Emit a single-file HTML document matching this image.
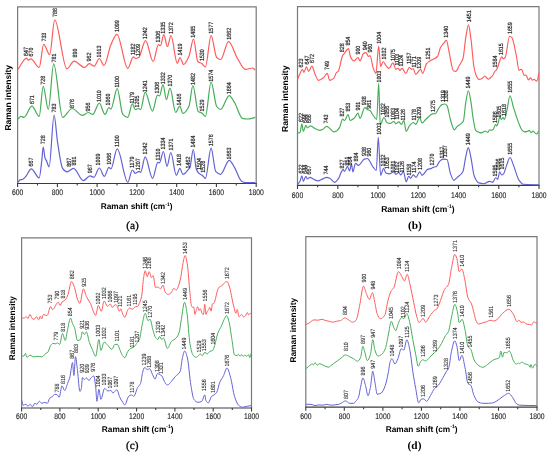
<!DOCTYPE html><html><head><meta charset="utf-8"><style>html,body{margin:0;padding:0;background:#fff;width:550px;height:454px;overflow:hidden}svg{display:block;will-change:transform}</style></head><body>
<svg width="550" height="454" viewBox="0 0 550 454" font-family="Liberation Sans, sans-serif" text-rendering="geometricPrecision">
<path d="M17.6 183.5 V6.8 H256.2 V183.5" fill="none" stroke="#7a7a7a" stroke-width="1.2"/>
<path d="M17.0 183.5 H256.8" stroke="#3c3c3c" stroke-width="1.2"/>
<path d="M17.6 183.5 v3.6 M37.5 183.5 v2.0 M57.4 183.5 v3.6 M77.2 183.5 v2.0 M97.1 183.5 v3.6 M117.0 183.5 v2.0 M136.9 183.5 v3.6 M156.8 183.5 v2.0 M176.7 183.5 v3.6 M196.6 183.5 v2.0 M216.4 183.5 v3.6 M236.3 183.5 v2.0 M256.2 183.5 v3.6" stroke="#3c3c3c" stroke-width="1.1"/>
<text transform="translate(17.6 195.2) scale(0.83 1)" font-size="8.2" text-anchor="middle" fill="#222" stroke="#222" stroke-width="0.12">600</text>
<text transform="translate(57.4 195.2) scale(0.83 1)" font-size="8.2" text-anchor="middle" fill="#222" stroke="#222" stroke-width="0.12">800</text>
<text transform="translate(97.1 195.2) scale(0.83 1)" font-size="8.2" text-anchor="middle" fill="#222" stroke="#222" stroke-width="0.12">1000</text>
<text transform="translate(136.9 195.2) scale(0.83 1)" font-size="8.2" text-anchor="middle" fill="#222" stroke="#222" stroke-width="0.12">1200</text>
<text transform="translate(176.7 195.2) scale(0.83 1)" font-size="8.2" text-anchor="middle" fill="#222" stroke="#222" stroke-width="0.12">1400</text>
<text transform="translate(216.4 195.2) scale(0.83 1)" font-size="8.2" text-anchor="middle" fill="#222" stroke="#222" stroke-width="0.12">1600</text>
<text transform="translate(256.2 195.2) scale(0.83 1)" font-size="8.2" text-anchor="middle" fill="#222" stroke="#222" stroke-width="0.12">1800</text>
<path d="M297.5 185.3 V6.6 H539.0 V185.3" fill="none" stroke="#7a7a7a" stroke-width="1.2"/>
<path d="M296.9 185.3 H539.6" stroke="#3c3c3c" stroke-width="1.2"/>
<path d="M297.5 185.3 v3.6 M317.6 185.3 v2.0 M337.8 185.3 v3.6 M357.9 185.3 v2.0 M378.0 185.3 v3.6 M398.1 185.3 v2.0 M418.2 185.3 v3.6 M438.4 185.3 v2.0 M458.5 185.3 v3.6 M478.6 185.3 v2.0 M498.8 185.3 v3.6 M518.9 185.3 v2.0 M539.0 185.3 v3.6" stroke="#3c3c3c" stroke-width="1.1"/>
<text transform="translate(297.5 197.7) scale(0.83 1)" font-size="8.2" text-anchor="middle" fill="#222" stroke="#222" stroke-width="0.12">600</text>
<text transform="translate(337.8 197.7) scale(0.83 1)" font-size="8.2" text-anchor="middle" fill="#222" stroke="#222" stroke-width="0.12">800</text>
<text transform="translate(378.0 197.7) scale(0.83 1)" font-size="8.2" text-anchor="middle" fill="#222" stroke="#222" stroke-width="0.12">1000</text>
<text transform="translate(418.2 197.7) scale(0.83 1)" font-size="8.2" text-anchor="middle" fill="#222" stroke="#222" stroke-width="0.12">1200</text>
<text transform="translate(458.5 197.7) scale(0.83 1)" font-size="8.2" text-anchor="middle" fill="#222" stroke="#222" stroke-width="0.12">1400</text>
<text transform="translate(498.8 197.7) scale(0.83 1)" font-size="8.2" text-anchor="middle" fill="#222" stroke="#222" stroke-width="0.12">1600</text>
<text transform="translate(539.0 197.7) scale(0.83 1)" font-size="8.2" text-anchor="middle" fill="#222" stroke="#222" stroke-width="0.12">1800</text>
<path d="M21.6 408.0 V237.9 H251.5 V408.0" fill="none" stroke="#7a7a7a" stroke-width="1.2"/>
<path d="M21.0 408.0 H252.1" stroke="#3c3c3c" stroke-width="1.2"/>
<path d="M21.6 408.0 v3.6 M40.8 408.0 v2.0 M59.9 408.0 v3.6 M79.1 408.0 v2.0 M98.2 408.0 v3.6 M117.4 408.0 v2.0 M136.6 408.0 v3.6 M155.7 408.0 v2.0 M174.9 408.0 v3.6 M194.0 408.0 v2.0 M213.2 408.0 v3.6 M232.3 408.0 v2.0 M251.5 408.0 v3.6" stroke="#3c3c3c" stroke-width="1.1"/>
<text transform="translate(21.6 419.1) scale(0.83 1)" font-size="8.2" text-anchor="middle" fill="#222" stroke="#222" stroke-width="0.12">600</text>
<text transform="translate(59.9 419.1) scale(0.83 1)" font-size="8.2" text-anchor="middle" fill="#222" stroke="#222" stroke-width="0.12">800</text>
<text transform="translate(98.2 419.1) scale(0.83 1)" font-size="8.2" text-anchor="middle" fill="#222" stroke="#222" stroke-width="0.12">1000</text>
<text transform="translate(136.6 419.1) scale(0.83 1)" font-size="8.2" text-anchor="middle" fill="#222" stroke="#222" stroke-width="0.12">1200</text>
<text transform="translate(174.9 419.1) scale(0.83 1)" font-size="8.2" text-anchor="middle" fill="#222" stroke="#222" stroke-width="0.12">1400</text>
<text transform="translate(213.2 419.1) scale(0.83 1)" font-size="8.2" text-anchor="middle" fill="#222" stroke="#222" stroke-width="0.12">1600</text>
<text transform="translate(251.5 419.1) scale(0.83 1)" font-size="8.2" text-anchor="middle" fill="#222" stroke="#222" stroke-width="0.12">1800</text>
<path d="M305.8 407.2 V236.6 H537.0 V407.2" fill="none" stroke="#7a7a7a" stroke-width="1.2"/>
<path d="M305.2 407.2 H537.6" stroke="#3c3c3c" stroke-width="1.2"/>
<path d="M305.8 407.2 v3.6 M325.1 407.2 v2.0 M344.3 407.2 v3.6 M363.6 407.2 v2.0 M382.9 407.2 v3.6 M402.1 407.2 v2.0 M421.4 407.2 v3.6 M440.7 407.2 v2.0 M459.9 407.2 v3.6 M479.2 407.2 v2.0 M498.5 407.2 v3.6 M517.7 407.2 v2.0 M537.0 407.2 v3.6" stroke="#3c3c3c" stroke-width="1.1"/>
<text transform="translate(305.8 419.1) scale(0.83 1)" font-size="8.2" text-anchor="middle" fill="#222" stroke="#222" stroke-width="0.12">600</text>
<text transform="translate(344.3 419.1) scale(0.83 1)" font-size="8.2" text-anchor="middle" fill="#222" stroke="#222" stroke-width="0.12">800</text>
<text transform="translate(382.9 419.1) scale(0.83 1)" font-size="8.2" text-anchor="middle" fill="#222" stroke="#222" stroke-width="0.12">1000</text>
<text transform="translate(421.4 419.1) scale(0.83 1)" font-size="8.2" text-anchor="middle" fill="#222" stroke="#222" stroke-width="0.12">1200</text>
<text transform="translate(459.9 419.1) scale(0.83 1)" font-size="8.2" text-anchor="middle" fill="#222" stroke="#222" stroke-width="0.12">1400</text>
<text transform="translate(498.5 419.1) scale(0.83 1)" font-size="8.2" text-anchor="middle" fill="#222" stroke="#222" stroke-width="0.12">1600</text>
<text transform="translate(537.0 419.1) scale(0.83 1)" font-size="8.2" text-anchor="middle" fill="#222" stroke="#222" stroke-width="0.12">1800</text>
<path d="M18.00 69.40 C20.83 65.63 23.67 58.10 26.50 58.10 C27.17 58.10 27.83 60.10 28.50 60.10 C29.30 60.10 30.10 58.90 30.90 58.90 C33.67 58.90 36.43 67.50 39.20 67.50 C40.70 67.50 42.20 44.30 43.70 44.30 C45.70 44.30 47.70 54.60 49.70 54.60 C51.37 54.60 53.03 19.90 54.70 19.90 C58.77 19.90 62.83 68.80 66.90 68.80 C69.30 68.80 71.70 61.10 74.10 61.10 C77.53 61.10 80.97 67.50 84.40 67.50 C86.03 67.50 87.67 63.70 89.30 63.70 C90.97 63.70 92.63 66.10 94.30 66.10 C95.97 66.10 97.63 58.50 99.30 58.50 C100.87 58.50 102.43 65.50 104.00 65.50 C106.30 65.50 108.60 49.73 110.90 44.70 C112.90 40.33 114.90 34.30 116.90 34.30 C120.53 34.30 124.17 68.40 127.80 68.40 C129.63 68.40 131.47 56.90 133.30 56.90 C134.10 56.90 134.90 58.50 135.70 58.50 C136.70 58.50 137.70 58.03 138.70 57.50 C141.00 56.27 143.30 40.70 145.60 40.70 C148.10 40.70 150.60 61.50 153.10 61.50 C154.90 61.50 156.70 44.70 158.50 44.70 C159.17 44.70 159.83 45.60 160.50 45.60 C161.60 45.60 162.70 34.70 163.80 34.70 C165.00 34.70 166.20 46.60 167.40 46.60 C168.60 46.60 169.80 35.70 171.00 35.70 C173.10 35.70 175.20 63.50 177.30 63.50 C178.17 63.50 179.03 57.50 179.90 57.50 C181.13 57.50 182.37 64.50 183.60 64.50 C185.37 64.50 187.13 60.35 188.90 56.50 C190.43 53.16 191.97 39.10 193.50 39.10 C194.93 39.10 196.37 60.21 197.80 61.50 C199.13 62.70 200.47 62.62 201.80 63.50 C203.00 64.29 204.20 66.90 205.40 66.90 C207.30 66.90 209.20 35.70 211.10 35.70 C212.97 35.70 214.83 55.88 216.70 57.50 C218.00 58.63 219.30 59.50 220.60 59.50 C223.27 59.50 225.93 41.70 228.60 41.70 C231.57 41.70 234.53 53.79 237.50 58.50 C240.13 62.69 242.77 69.40 245.40 69.40 C247.73 69.40 250.07 68.00 252.40 68.00 C253.37 68.00 254.33 69.33 255.30 70.00" fill="none" stroke="#ff5a5a" stroke-width="1.20" stroke-linejoin="round"/>
<path d="M18.00 119.00 C19.00 118.13 20.00 116.40 21.00 116.40 C21.97 116.40 22.93 117.40 23.90 117.40 C26.57 117.40 29.23 106.10 31.90 106.10 C34.33 106.10 36.77 116.40 39.20 116.40 C40.53 116.40 41.87 86.30 43.20 86.30 C44.90 86.30 46.60 109.50 48.30 109.50 C50.10 109.50 51.90 63.90 53.70 63.90 C56.67 63.90 59.63 117.40 62.60 117.40 C65.77 117.40 68.93 108.50 72.10 108.50 C75.53 108.50 78.97 115.40 82.40 115.40 C84.40 115.40 86.40 112.50 88.40 112.50 C89.83 112.50 91.27 114.40 92.70 114.40 C94.90 114.40 97.10 103.10 99.30 103.10 C101.20 103.10 103.10 114.40 105.00 114.40 C106.30 114.40 107.60 107.50 108.90 107.50 C109.57 107.50 110.23 109.10 110.90 109.10 C113.00 109.10 115.10 88.70 117.20 88.70 C119.07 88.70 120.93 112.45 122.80 114.40 C124.47 116.14 126.13 117.40 127.80 117.40 C129.30 117.40 130.80 103.90 132.30 103.90 C133.30 103.90 134.30 109.50 135.30 109.50 C136.43 109.50 137.57 108.50 138.70 108.50 C139.33 108.50 139.97 109.50 140.60 109.50 C142.13 109.50 143.67 92.20 145.20 92.20 C147.63 92.20 150.07 111.10 152.50 111.10 C154.17 111.10 155.83 95.20 157.50 95.20 C158.17 95.20 158.83 96.00 159.50 96.00 C160.67 96.00 161.83 84.70 163.00 84.70 C164.13 84.70 165.27 99.60 166.40 99.60 C167.60 99.60 168.80 88.10 170.00 88.10 C171.90 88.10 173.80 112.50 175.70 112.50 C177.03 112.50 178.37 106.10 179.70 106.10 C180.77 106.10 181.83 113.40 182.90 113.40 C184.90 113.40 186.90 110.43 188.90 106.50 C190.23 103.88 191.57 85.70 192.90 85.70 C194.67 85.70 196.43 110.21 198.20 111.50 C199.40 112.37 200.60 112.31 201.80 113.00 C203.00 113.69 204.20 116.40 205.40 116.40 C207.30 116.40 209.20 82.10 211.10 82.10 C212.97 82.10 214.83 104.16 216.70 106.50 C218.00 108.13 219.30 109.50 220.60 109.50 C223.47 109.50 226.33 95.60 229.20 95.60 C230.97 95.60 232.73 99.76 234.50 102.50 C237.17 106.64 239.83 117.83 242.50 118.40 C244.13 118.75 245.77 119.00 247.40 119.00 C250.03 119.00 252.67 117.93 255.30 117.40" fill="none" stroke="#45ad58" stroke-width="1.20" stroke-linejoin="round"/>
<path d="M18.00 182.20 C18.67 181.43 19.33 180.14 20.00 179.90 C20.97 179.55 21.93 179.63 22.90 179.30 C23.90 178.96 24.90 177.45 25.90 176.30 C27.70 174.24 29.50 168.80 31.30 168.80 C33.93 168.80 36.57 177.90 39.20 177.90 C40.07 177.90 40.93 167.37 41.80 160.40 C42.27 156.65 42.73 147.00 43.20 147.00 C43.83 147.00 44.47 156.82 45.10 158.40 C45.50 159.40 45.90 159.64 46.30 160.40 C47.23 162.16 48.17 166.80 49.10 166.80 C50.77 166.80 52.43 115.20 54.10 115.20 C55.27 115.20 56.43 135.25 57.60 142.60 C59.27 153.09 60.93 166.14 62.60 168.40 C64.07 170.39 65.53 171.90 67.00 171.90 C68.17 171.90 69.33 170.63 70.50 170.00 C71.50 169.46 72.50 168.40 73.50 168.40 C76.80 168.40 80.10 180.60 83.40 180.60 C85.60 180.60 87.80 175.90 90.00 175.90 C91.30 175.90 92.60 177.30 93.90 177.30 C95.70 177.30 97.50 168.00 99.30 168.00 C101.00 168.00 102.70 176.30 104.40 176.30 C105.90 176.30 107.40 167.40 108.90 167.40 C109.57 167.40 110.23 168.80 110.90 168.80 C113.00 168.80 115.10 148.90 117.20 148.90 C120.73 148.90 124.27 182.20 127.80 182.20 C129.30 182.20 130.80 170.00 132.30 170.00 C133.30 170.00 134.30 173.30 135.30 173.30 C136.63 173.30 137.97 171.30 139.30 171.30 C139.73 171.30 140.17 172.30 140.60 172.30 C142.13 172.30 143.67 156.90 145.20 156.90 C147.63 156.90 150.07 178.30 152.50 178.30 C154.30 178.30 156.10 162.40 157.90 162.40 C158.43 162.40 158.97 162.80 159.50 162.80 C160.80 162.80 162.10 151.50 163.40 151.50 C164.60 151.50 165.80 166.40 167.00 166.40 C168.27 166.40 169.53 152.50 170.80 152.50 C172.63 152.50 174.47 175.30 176.30 175.30 C177.50 175.30 178.70 168.40 179.90 168.40 C180.90 168.40 181.90 174.30 182.90 174.30 C184.57 174.30 186.23 171.78 187.90 170.00 C188.57 169.29 189.23 168.72 189.90 167.40 C191.03 165.15 192.17 149.50 193.30 149.50 C194.30 149.50 195.30 166.77 196.30 169.30 C197.13 171.41 197.97 172.57 198.80 173.30 C199.93 174.30 201.07 174.48 202.20 175.30 C203.27 176.07 204.33 178.30 205.40 178.30 C207.30 178.30 209.20 148.10 211.10 148.10 C212.63 148.10 214.17 169.61 215.70 171.30 C217.33 173.10 218.97 174.30 220.60 174.30 C223.47 174.30 226.33 160.40 229.20 160.40 C230.97 160.40 232.73 164.63 234.50 167.40 C236.83 171.06 239.17 179.87 241.50 181.20 C242.80 181.94 244.10 182.60 245.40 182.60 C248.70 182.60 252.00 182.60 255.30 182.60" fill="none" stroke="#6262d4" stroke-width="1.20" stroke-linejoin="round"/>
<path d="M297.60 79.30 C298.40 77.33 299.20 74.95 300.00 73.40 C300.83 71.78 301.67 69.40 302.50 69.40 C302.97 69.40 303.43 72.40 303.90 72.40 C304.77 72.40 305.63 66.90 306.50 66.90 C307.17 66.90 307.83 71.40 308.50 71.40 C309.63 71.40 310.77 66.10 311.90 66.10 C312.87 66.10 313.83 71.29 314.80 73.40 C316.00 76.02 317.20 80.30 318.40 80.30 C320.17 80.30 321.93 78.72 323.70 77.40 C324.90 76.50 326.10 73.40 327.30 73.40 C328.10 73.40 328.90 80.30 329.70 80.30 C331.03 80.30 332.37 79.47 333.70 78.40 C334.67 77.63 335.63 73.28 336.60 72.40 C337.13 71.91 337.67 71.91 338.20 71.40 C339.67 69.99 341.13 58.13 342.60 55.60 C343.13 54.68 343.67 54.25 344.20 53.60 C345.63 51.86 347.07 48.60 348.50 48.60 C349.17 48.60 349.83 55.66 350.50 56.90 C351.70 59.13 352.90 60.90 354.10 60.90 C355.40 60.90 356.70 57.50 358.00 57.50 C358.67 57.50 359.33 60.90 360.00 60.90 C361.13 60.90 362.27 54.32 363.40 53.60 C364.27 53.05 365.13 52.60 366.00 52.60 C366.80 52.60 367.60 56.50 368.40 56.50 C368.93 56.50 369.47 55.60 370.00 55.60 C371.10 55.60 372.20 65.61 373.30 68.40 C374.17 70.60 375.03 73.40 375.90 73.40 C376.83 73.40 377.77 46.20 378.70 46.20 C379.33 46.20 379.97 66.50 380.60 66.50 C381.47 66.50 382.33 61.50 383.20 61.50 C384.10 61.50 385.00 64.44 385.90 65.50 C386.90 66.67 387.90 68.40 388.90 68.40 C390.23 68.40 391.57 62.90 392.90 62.90 C393.90 62.90 394.90 69.40 395.90 69.40 C396.67 69.40 397.43 68.00 398.20 68.00 C398.73 68.00 399.27 70.40 399.80 70.40 C400.60 70.40 401.40 68.40 402.20 68.40 C403.40 68.40 404.60 73.40 405.80 73.40 C406.97 73.40 408.13 67.50 409.30 67.50 C410.10 67.50 410.90 69.40 411.70 69.40 C412.23 69.40 412.77 68.80 413.30 68.80 C414.10 68.80 414.90 74.40 415.70 74.40 C417.33 74.40 418.97 69.40 420.60 69.40 C421.27 69.40 421.93 73.40 422.60 73.40 C423.93 73.40 425.27 65.01 426.60 63.50 C427.47 62.52 428.33 62.09 429.20 61.50 C430.30 60.75 431.40 60.16 432.50 59.50 C434.17 58.49 435.83 58.26 437.50 56.50 C438.50 55.44 439.50 49.45 440.50 47.60 C441.47 45.81 442.43 44.89 443.40 43.70 C444.40 42.47 445.40 40.30 446.40 40.30 C447.40 40.30 448.40 49.23 449.40 53.60 C450.73 59.43 452.07 70.19 453.40 70.80 C454.17 71.15 454.93 71.40 455.70 71.40 C456.90 71.40 458.10 67.61 459.30 65.50 C460.53 63.33 461.77 62.32 463.00 58.50 C463.97 55.51 464.93 42.18 465.90 36.70 C466.77 31.79 467.63 24.80 468.50 24.80 C469.30 24.80 470.10 33.05 470.90 38.70 C471.90 45.77 472.90 60.87 473.90 66.50 C474.50 69.88 475.10 72.61 475.70 74.10 C476.77 76.75 477.83 79.40 478.90 79.40 C479.97 79.40 481.03 78.98 482.10 78.50 C482.93 78.13 483.77 76.00 484.60 76.00 C485.23 76.00 485.87 77.18 486.50 77.70 C487.17 78.24 487.83 79.20 488.50 79.20 C489.13 79.20 489.77 78.23 490.40 77.70 C491.03 77.17 491.67 76.75 492.30 76.00 C493.13 75.02 493.97 72.56 494.80 71.50 C495.43 70.70 496.07 70.52 496.70 69.60 C497.33 68.68 497.97 66.29 498.60 64.50 C499.23 62.71 499.87 60.02 500.50 58.80 C500.93 57.97 501.37 56.90 501.80 56.90 C502.30 56.90 502.80 58.80 503.30 58.80 C503.97 58.80 504.63 57.99 505.30 57.10 C506.73 55.19 508.17 36.30 509.60 36.30 C510.37 36.30 511.13 36.95 511.90 37.70 C513.43 39.20 514.97 49.19 516.50 56.50 C517.33 60.47 518.17 70.30 519.00 70.30 C519.63 70.30 520.27 69.30 520.90 69.30 C521.33 69.30 521.77 69.80 522.20 70.30 C522.83 71.03 523.47 75.40 524.10 75.40 C524.73 75.40 525.37 75.10 526.00 75.10 C526.83 75.10 527.67 79.80 528.50 79.80 C529.17 79.80 529.83 77.90 530.50 77.90 C531.13 77.90 531.77 80.20 532.40 80.20 C533.03 80.20 533.67 79.40 534.30 79.40 C534.93 79.40 535.57 81.10 536.20 81.10 C536.70 81.10 537.20 80.61 537.70 79.80 C538.03 79.26 538.37 75.13 538.70 72.80" fill="none" stroke="#ff5a5a" stroke-width="1.15" stroke-linejoin="round"/>
<path d="M297.60 133.00 C298.40 132.80 299.20 132.79 300.00 132.40 C300.63 132.09 301.27 123.80 301.90 123.80 C302.37 123.80 302.83 131.40 303.30 131.40 C304.17 131.40 305.03 125.40 305.90 125.40 C306.37 125.40 306.83 127.80 307.30 127.80 C308.37 127.80 309.43 125.80 310.50 125.80 C311.93 125.80 313.37 127.71 314.80 128.40 C316.47 129.21 318.13 130.40 319.80 130.40 C320.80 130.40 321.80 129.86 322.80 129.40 C324.10 128.81 325.40 126.40 326.70 126.40 C327.70 126.40 328.70 127.66 329.70 128.40 C331.03 129.39 332.37 131.80 333.70 131.80 C334.67 131.80 335.63 131.43 336.60 131.00 C337.60 130.55 338.60 129.07 339.60 127.40 C340.60 125.73 341.60 119.10 342.60 119.10 C343.27 119.10 343.93 120.50 344.60 120.50 C345.77 120.50 346.93 114.50 348.10 114.50 C348.77 114.50 349.43 120.50 350.10 120.50 C351.57 120.50 353.03 119.13 354.50 117.90 C355.67 116.92 356.83 113.10 358.00 113.10 C358.67 113.10 359.33 118.50 360.00 118.50 C361.60 118.50 363.20 107.60 364.80 107.60 C365.67 107.60 366.53 109.14 367.40 109.60 C368.23 110.04 369.07 110.09 369.90 110.60 C371.03 111.29 372.17 114.03 373.30 115.50 C374.43 116.97 375.57 119.50 376.70 119.50 C377.37 119.50 378.03 83.40 378.70 83.40 C379.20 83.40 379.70 124.40 380.20 124.40 C381.47 124.40 382.73 117.50 384.00 117.50 C384.97 117.50 385.93 122.00 386.90 122.50 C387.90 123.01 388.90 123.40 389.90 123.40 C391.23 123.40 392.57 121.50 393.90 121.50 C394.57 121.50 395.23 123.80 395.90 123.80 C396.87 123.80 397.83 121.90 398.80 121.90 C399.67 121.90 400.53 124.40 401.40 124.40 C402.20 124.40 403.00 120.50 403.80 120.50 C404.60 120.50 405.40 131.40 406.20 131.40 C407.37 131.40 408.53 126.68 409.70 125.40 C410.90 124.08 412.10 122.50 413.30 122.50 C414.10 122.50 414.90 124.40 415.70 124.40 C417.03 124.40 418.37 117.50 419.70 117.50 C420.47 117.50 421.23 123.00 422.00 123.00 C423.53 123.00 425.07 119.84 426.60 118.50 C428.57 116.79 430.53 114.32 432.50 113.90 C433.50 113.69 434.50 113.75 435.50 113.50 C436.50 113.25 437.50 109.97 438.50 108.60 C439.63 107.04 440.77 104.97 441.90 104.60 C442.93 104.26 443.97 104.00 445.00 104.00 C445.67 104.00 446.33 104.76 447.00 105.60 C448.13 107.03 449.27 115.85 450.40 119.50 C451.70 123.69 453.00 129.80 454.30 129.80 C455.30 129.80 456.30 127.31 457.30 126.40 C458.63 125.18 459.97 124.63 461.30 123.40 C462.00 122.75 462.70 122.39 463.40 121.00 C464.13 119.54 464.87 108.01 465.60 103.60 C466.50 98.19 467.40 90.70 468.30 90.70 C469.17 90.70 470.03 96.91 470.90 101.60 C471.67 105.75 472.43 114.51 473.20 118.90 C474.03 123.67 474.87 129.49 475.70 130.40 C476.77 131.56 477.83 131.95 478.90 132.30 C479.77 132.58 480.63 132.90 481.50 132.90 C482.13 132.90 482.77 132.22 483.40 131.90 C484.03 131.58 484.67 131.00 485.30 131.00 C486.13 131.00 486.97 132.30 487.80 132.30 C488.43 132.30 489.07 129.70 489.70 129.70 C490.33 129.70 490.97 130.40 491.60 130.40 C492.23 130.40 492.87 129.76 493.50 129.10 C494.17 128.40 494.83 124.60 495.50 124.60 C495.90 124.60 496.30 125.90 496.70 125.90 C497.13 125.90 497.57 124.47 498.00 123.40 C498.63 121.83 499.27 116.40 499.90 116.40 C500.33 116.40 500.77 119.50 501.20 119.50 C501.83 119.50 502.47 117.60 503.10 117.60 C503.53 117.60 503.97 119.50 504.40 119.50 C505.23 119.50 506.07 113.90 506.90 110.50 C507.93 106.28 508.97 95.70 510.00 95.70 C511.17 95.70 512.33 103.92 513.50 107.60 C515.53 114.01 517.57 120.66 519.60 125.30 C520.47 127.28 521.33 129.61 522.20 130.40 C523.03 131.16 523.87 131.90 524.70 131.90 C525.57 131.90 526.43 131.65 527.30 131.40 C527.93 131.22 528.57 130.40 529.20 130.40 C529.83 130.40 530.47 132.70 531.10 132.70 C531.73 132.70 532.37 131.00 533.00 131.00 C533.63 131.00 534.27 132.46 534.90 132.90 C535.53 133.34 536.17 133.90 536.80 133.90 C537.43 133.90 538.07 131.97 538.70 131.00" fill="none" stroke="#45ad58" stroke-width="1.15" stroke-linejoin="round"/>
<path d="M297.60 184.30 C298.40 183.30 299.20 182.73 300.00 181.30 C300.63 180.17 301.27 175.70 301.90 175.70 C302.37 175.70 302.83 181.30 303.30 181.30 C304.17 181.30 305.03 176.30 305.90 176.30 C306.37 176.30 306.83 178.90 307.30 178.90 C308.17 178.90 309.03 177.30 309.90 177.30 C311.20 177.30 312.50 178.72 313.80 179.30 C315.13 179.90 316.47 180.90 317.80 180.90 C319.47 180.90 321.13 179.58 322.80 178.90 C324.10 178.37 325.40 177.30 326.70 177.30 C327.70 177.30 328.70 177.85 329.70 178.30 C331.37 179.06 333.03 182.30 334.70 182.30 C336.00 182.30 337.30 180.18 338.60 178.30 C339.60 176.86 340.60 173.11 341.60 171.40 C342.07 170.60 342.53 169.40 343.00 169.40 C343.53 169.40 344.07 171.40 344.60 171.40 C345.57 171.40 346.53 166.40 347.50 166.40 C348.17 166.40 348.83 171.00 349.50 171.00 C350.17 171.00 350.83 164.40 351.50 164.40 C351.97 164.40 352.43 171.80 352.90 171.80 C353.77 171.80 354.63 163.40 355.50 163.40 C356.47 163.40 357.43 165.40 358.40 165.40 C360.40 165.40 362.40 159.72 364.40 159.10 C365.40 158.79 366.40 158.50 367.40 158.50 C368.03 158.50 368.67 159.70 369.30 160.50 C370.63 162.19 371.97 165.73 373.30 167.40 C374.30 168.65 375.30 170.40 376.30 170.40 C376.97 170.40 377.63 137.30 378.30 137.30 C379.07 137.30 379.83 175.30 380.60 175.30 C381.60 175.30 382.60 168.40 383.60 168.40 C384.37 168.40 385.13 172.70 385.90 173.00 C387.23 173.52 388.57 173.80 389.90 173.80 C391.10 173.80 392.30 171.80 393.50 171.80 C394.30 171.80 395.10 174.30 395.90 174.30 C396.87 174.30 397.83 172.40 398.80 172.40 C399.47 172.40 400.13 174.90 400.80 174.90 C401.67 174.90 402.53 171.40 403.40 171.40 C404.33 171.40 405.27 181.70 406.20 181.70 C407.03 181.70 407.87 176.30 408.70 176.30 C409.37 176.30 410.03 178.30 410.70 178.30 C411.57 178.30 412.43 174.90 413.30 174.90 C414.23 174.90 415.17 177.30 416.10 177.30 C417.30 177.30 418.50 171.80 419.70 171.80 C420.47 171.80 421.23 175.30 422.00 175.30 C423.87 175.30 425.73 170.14 427.60 169.40 C428.90 168.88 430.20 168.90 431.50 168.40 C432.03 168.19 432.57 167.62 433.10 167.40 C434.23 166.93 435.37 166.97 436.50 166.40 C437.50 165.89 438.50 162.48 439.50 161.50 C440.67 160.36 441.83 159.10 443.00 159.10 C444.33 159.10 445.67 159.23 447.00 159.50 C448.13 159.73 449.27 170.33 450.40 173.40 C451.53 176.47 452.67 180.30 453.80 180.30 C454.97 180.30 456.13 178.39 457.30 177.30 C459.20 175.53 461.10 175.00 463.00 171.40 C463.87 169.76 464.73 161.27 465.60 157.50 C466.50 153.58 467.40 147.60 468.30 147.60 C469.17 147.60 470.03 153.62 470.90 157.50 C472.03 162.57 473.17 173.60 474.30 176.30 C475.80 179.87 477.30 182.46 478.80 182.90 C480.47 183.39 482.13 183.70 483.80 183.70 C485.77 183.70 487.73 181.30 489.70 181.30 C490.70 181.30 491.70 182.30 492.70 182.30 C493.70 182.30 494.70 177.70 495.70 177.70 C496.37 177.70 497.03 179.30 497.70 179.30 C498.37 179.30 499.03 171.80 499.70 171.80 C500.33 171.80 500.97 175.00 501.60 175.00 C502.27 175.00 502.93 174.43 503.60 173.80 C504.60 172.85 505.60 167.94 506.60 165.40 C507.73 162.52 508.87 157.50 510.00 157.50 C511.17 157.50 512.33 162.57 513.50 165.40 C515.37 169.93 517.23 177.78 519.10 180.30 C520.53 182.24 521.97 184.17 523.40 184.30 C528.57 184.76 533.73 184.70 538.90 184.90" fill="none" stroke="#6262d4" stroke-width="1.15" stroke-linejoin="round"/>
<path d="M21.60 317.40 C22.33 317.70 23.07 318.30 23.80 318.30 C24.67 318.30 25.53 316.70 26.40 316.70 C26.90 316.70 27.40 318.60 27.90 318.60 C28.57 318.60 29.23 314.40 29.90 314.40 C30.63 314.40 31.37 317.62 32.10 318.30 C32.73 318.88 33.37 319.50 34.00 319.50 C34.83 319.50 35.67 316.70 36.50 316.70 C37.17 316.70 37.83 319.90 38.50 319.90 C39.13 319.90 39.77 316.10 40.40 316.10 C40.80 316.10 41.20 319.00 41.60 319.00 C42.23 319.00 42.87 314.40 43.50 314.40 C44.37 314.40 45.23 315.50 46.10 315.50 C46.53 315.50 46.97 315.37 47.40 315.20 C48.43 314.80 49.47 306.50 50.50 306.50 C51.17 306.50 51.83 309.70 52.50 309.70 C53.13 309.70 53.77 308.68 54.40 307.80 C54.80 307.24 55.20 305.94 55.60 305.30 C56.47 303.92 57.33 302.10 58.20 302.10 C58.83 302.10 59.47 305.50 60.10 305.50 C60.73 305.50 61.37 302.73 62.00 302.10 C62.63 301.47 63.27 301.27 63.90 300.80 C64.47 300.38 65.03 300.05 65.60 299.40 C66.40 298.48 67.20 296.57 68.00 294.50 C69.17 291.49 70.33 281.60 71.50 281.60 C72.50 281.60 73.50 284.87 74.50 287.50 C75.50 290.13 76.50 297.09 77.50 299.40 C78.30 301.25 79.10 303.40 79.90 303.40 C81.07 303.40 82.23 288.90 83.40 288.90 C84.40 288.90 85.40 294.43 86.40 296.50 C87.73 299.26 89.07 300.81 90.40 303.40 C92.17 306.83 93.93 315.30 95.70 315.30 C96.57 315.30 97.43 305.40 98.30 305.40 C99.30 305.40 100.30 311.30 101.30 311.30 C102.23 311.30 103.17 301.00 104.10 301.00 C105.23 301.00 106.37 306.40 107.50 306.40 C108.43 306.40 109.37 304.00 110.30 304.00 C110.97 304.00 111.63 307.40 112.30 307.40 C113.37 307.40 114.43 304.40 115.50 304.40 C116.13 304.40 116.77 305.78 117.40 306.80 C118.07 307.88 118.73 311.30 119.40 311.30 C119.87 311.30 120.33 308.80 120.80 308.80 C121.27 308.80 121.73 311.67 122.20 312.70 C123.07 314.62 123.93 317.30 124.80 317.30 C125.80 317.30 126.80 311.28 127.80 309.90 C128.43 309.03 129.07 308.00 129.70 308.00 C130.50 308.00 131.30 309.30 132.10 309.30 C133.17 309.30 134.23 307.08 135.30 306.80 C136.10 306.59 136.90 306.65 137.70 306.40 C138.37 306.19 139.03 304.02 139.70 302.40 C140.33 300.86 140.97 299.45 141.60 296.50 C142.27 293.40 142.93 281.49 143.60 277.60 C144.13 274.48 144.67 270.70 145.20 270.70 C145.87 270.70 146.53 276.60 147.20 276.60 C147.87 276.60 148.53 271.70 149.20 271.70 C149.97 271.70 150.73 277.60 151.50 277.60 C152.03 277.60 152.57 275.60 153.10 275.60 C153.90 275.60 154.70 287.50 155.50 287.50 C156.30 287.50 157.10 286.90 157.90 286.90 C158.77 286.90 159.63 288.90 160.50 288.90 C161.33 288.90 162.17 285.00 163.00 285.00 C163.67 285.00 164.33 290.39 165.00 291.50 C165.93 293.05 166.87 294.50 167.80 294.50 C168.87 294.50 169.93 293.72 171.00 292.90 C171.93 292.18 172.87 288.50 173.80 288.50 C174.63 288.50 175.47 290.10 176.30 290.10 C177.17 290.10 178.03 287.03 178.90 284.60 C179.57 282.73 180.23 279.89 180.90 276.60 C181.57 273.31 182.23 266.86 182.90 263.70 C183.63 260.22 184.37 255.50 185.10 255.50 C185.87 255.50 186.63 260.42 187.40 265.00 C188.23 269.97 189.07 284.50 189.90 292.50 C190.40 297.30 190.90 304.19 191.40 305.50 C191.80 306.54 192.20 307.40 192.60 307.40 C192.97 307.40 193.33 307.00 193.70 307.00 C194.10 307.00 194.50 314.40 194.90 314.40 C195.43 314.40 195.97 310.66 196.50 309.30 C196.90 308.28 197.30 306.70 197.70 306.70 C198.13 306.70 198.57 310.50 199.00 310.50 C199.43 310.50 199.87 308.60 200.30 308.60 C200.93 308.60 201.57 313.15 202.20 313.70 C202.63 314.07 203.07 314.40 203.50 314.40 C203.90 314.40 204.30 304.20 204.70 304.20 C205.13 304.20 205.57 314.40 206.00 314.40 C206.43 314.40 206.87 311.85 207.30 311.20 C207.70 310.60 208.10 310.45 208.50 309.90 C208.93 309.30 209.37 307.40 209.80 307.40 C210.23 307.40 210.67 311.20 211.10 311.20 C211.53 311.20 211.97 304.17 212.40 303.90 C212.80 303.65 213.20 303.71 213.60 303.50 C215.30 302.62 217.00 289.21 218.70 287.60 C219.77 286.59 220.83 286.51 221.90 285.70 C222.53 285.22 223.17 284.47 223.80 283.80 C224.37 283.20 224.93 282.14 225.50 281.90 C226.00 281.69 226.50 281.50 227.00 281.50 C227.63 281.50 228.27 283.52 228.90 285.10 C230.60 289.34 232.30 301.38 234.00 307.40 C234.63 309.64 235.27 313.30 235.90 313.30 C236.33 313.30 236.77 309.50 237.20 309.50 C237.83 309.50 238.47 316.90 239.10 316.90 C239.93 316.90 240.77 314.40 241.60 314.40 C242.23 314.40 242.87 316.90 243.50 316.90 C244.17 316.90 244.83 316.22 245.50 315.60 C246.13 315.01 246.77 312.50 247.40 312.50 C247.80 312.50 248.20 315.00 248.60 315.00 C249.13 315.00 249.67 313.30 250.20 313.30 C250.53 313.30 250.87 314.03 251.20 314.40" fill="none" stroke="#ff5a5a" stroke-width="1.00" stroke-linejoin="round"/>
<path d="M21.60 354.90 C22.27 355.37 22.93 356.30 23.60 356.30 C24.23 356.30 24.87 353.40 25.50 353.40 C25.97 353.40 26.43 357.30 26.90 357.30 C27.90 357.30 28.90 355.30 29.90 355.30 C31.23 355.30 32.57 356.90 33.90 356.90 C35.20 356.90 36.50 356.30 37.80 356.30 C39.13 356.30 40.47 356.90 41.80 356.90 C43.13 356.90 44.47 354.25 45.80 353.40 C46.43 353.00 47.07 352.92 47.70 352.40 C48.70 351.58 49.70 346.76 50.70 345.40 C51.37 344.49 52.03 343.40 52.70 343.40 C53.57 343.40 54.43 343.80 55.30 343.80 C56.10 343.80 56.90 343.00 57.70 343.00 C58.33 343.00 58.97 344.40 59.60 344.40 C60.60 344.40 61.60 333.50 62.60 333.50 C63.47 333.50 64.33 340.50 65.20 340.50 C66.00 340.50 66.80 332.99 67.60 329.60 C68.57 325.50 69.53 318.10 70.50 318.10 C71.17 318.10 71.83 322.06 72.50 323.60 C73.17 325.14 73.83 325.82 74.50 327.60 C75.50 330.27 76.50 340.50 77.50 340.50 C78.50 340.50 79.50 340.16 80.50 339.50 C81.13 339.08 81.77 331.90 82.40 331.90 C83.07 331.90 83.73 334.50 84.40 334.50 C85.07 334.50 85.73 331.90 86.40 331.90 C87.40 331.90 88.40 339.66 89.40 342.50 C90.37 345.25 91.33 347.28 92.30 349.40 C93.43 351.89 94.57 356.30 95.70 356.30 C96.77 356.30 97.83 339.50 98.90 339.50 C99.57 339.50 100.23 350.40 100.90 350.40 C101.97 350.40 103.03 342.20 104.10 342.20 C105.37 342.20 106.63 344.24 107.90 345.40 C109.23 346.62 110.57 349.40 111.90 349.40 C112.90 349.40 113.90 344.40 114.90 344.40 C115.73 344.40 116.57 344.40 117.40 344.40 C118.20 344.40 119.00 347.59 119.80 349.40 C120.47 350.90 121.13 353.24 121.80 354.30 C122.80 355.89 123.80 357.70 124.80 357.70 C125.80 357.70 126.80 352.78 127.80 351.40 C128.77 350.06 129.73 348.94 130.70 348.40 C131.57 347.92 132.43 347.89 133.30 347.40 C134.43 346.76 135.57 344.96 136.70 343.40 C137.70 342.03 138.70 341.09 139.70 338.50 C140.47 336.51 141.23 329.13 142.00 325.60 C143.07 320.68 144.13 313.30 145.20 313.30 C146.13 313.30 147.07 320.60 148.00 320.60 C148.67 320.60 149.33 319.30 150.00 319.30 C151.03 319.30 152.07 327.29 153.10 330.60 C153.90 333.16 154.70 336.47 155.50 337.50 C156.30 338.53 157.10 339.50 157.90 339.50 C158.43 339.50 158.97 336.50 159.50 336.50 C160.30 336.50 161.10 339.50 161.90 339.50 C162.40 339.50 162.90 337.90 163.40 337.90 C164.73 337.90 166.07 348.40 167.40 348.40 C168.73 348.40 170.07 342.89 171.40 341.50 C173.03 339.79 174.67 339.72 176.30 337.90 C177.30 336.78 178.30 335.02 179.30 331.90 C179.97 329.82 180.63 323.50 181.30 319.70 C182.40 313.42 183.50 302.20 184.60 302.20 C185.40 302.20 186.20 308.17 187.00 313.20 C187.97 319.28 188.93 337.97 189.90 343.40 C190.90 349.02 191.90 353.58 192.90 354.90 C193.90 356.22 194.90 357.30 195.90 357.30 C196.87 357.30 197.83 356.13 198.80 355.30 C199.27 354.90 199.73 353.80 200.20 353.80 C200.87 353.80 201.53 355.70 202.20 355.70 C203.07 355.70 203.93 352.40 204.80 352.40 C205.67 352.40 206.53 353.80 207.40 353.80 C208.17 353.80 208.93 351.80 209.70 351.40 C210.70 350.88 211.70 351.02 212.70 350.40 C213.37 349.99 214.03 347.41 214.70 345.40 C215.70 342.38 216.70 336.22 217.70 333.50 C219.00 329.96 220.30 328.51 221.60 325.60 C222.40 323.81 223.20 321.22 224.00 319.70 C224.87 318.05 225.73 315.70 226.60 315.70 C227.47 315.70 228.33 319.38 229.20 322.60 C230.10 325.95 231.00 334.11 231.90 339.50 C232.80 344.89 233.70 354.67 234.60 355.00 C235.47 355.32 236.33 355.50 237.20 355.50 C237.63 355.50 238.07 354.30 238.50 354.30 C239.00 354.30 239.50 356.30 240.00 356.30 C240.53 356.30 241.07 354.60 241.60 354.60 C242.17 354.60 242.73 356.50 243.30 356.50 C243.80 356.50 244.30 355.00 244.80 355.00 C245.43 355.00 246.07 356.30 246.70 356.30 C247.33 356.30 247.97 354.60 248.60 354.60 C248.97 354.60 249.33 357.60 249.70 357.60 C250.10 357.60 250.50 354.80 250.90 353.40" fill="none" stroke="#45ad58" stroke-width="1.00" stroke-linejoin="round"/>
<path d="M21.60 399.70 C22.07 401.53 22.53 405.20 23.00 405.20 C23.97 405.20 24.93 404.30 25.90 404.30 C26.57 404.30 27.23 406.20 27.90 406.20 C28.70 406.20 29.50 404.30 30.30 404.30 C30.97 404.30 31.63 406.80 32.30 406.80 C33.17 406.80 34.03 403.30 34.90 403.30 C35.53 403.30 36.17 404.30 36.80 404.30 C37.67 404.30 38.53 401.30 39.40 401.30 C40.20 401.30 41.00 403.30 41.80 403.30 C42.80 403.30 43.80 402.30 44.80 402.30 C45.63 402.30 46.47 403.30 47.30 403.30 C48.10 403.30 48.90 399.12 49.70 398.30 C50.70 397.27 51.70 397.11 52.70 396.30 C53.37 395.76 54.03 394.30 54.70 394.30 C55.57 394.30 56.43 394.55 57.30 394.90 C57.93 395.16 58.57 397.30 59.20 397.30 C60.13 397.30 61.07 385.80 62.00 385.80 C62.87 385.80 63.73 390.40 64.60 390.40 C65.60 390.40 66.60 385.99 67.60 383.40 C68.40 381.33 69.20 379.53 70.00 376.50 C70.83 373.35 71.67 362.60 72.50 362.60 C72.97 362.60 73.43 375.50 73.90 375.50 C74.43 375.50 74.97 356.70 75.50 356.70 C76.17 356.70 76.83 365.47 77.50 370.60 C78.30 376.75 79.10 391.40 79.90 391.40 C80.40 391.40 80.90 390.17 81.40 388.40 C81.73 387.22 82.07 377.50 82.40 377.50 C83.07 377.50 83.73 379.50 84.40 379.50 C85.07 379.50 85.73 377.90 86.40 377.90 C87.27 377.90 88.13 380.50 89.00 380.50 C89.67 380.50 90.33 378.54 91.00 377.90 C91.90 377.04 92.80 375.90 93.70 375.90 C94.37 375.90 95.03 382.13 95.70 387.40 C96.10 390.56 96.50 401.30 96.90 401.30 C97.57 401.30 98.23 389.40 98.90 389.40 C99.57 389.40 100.23 399.30 100.90 399.30 C102.13 399.30 103.37 388.40 104.60 388.40 C105.70 388.40 106.80 391.00 107.90 391.00 C108.90 391.00 109.90 390.40 110.90 390.40 C111.57 390.40 112.23 393.00 112.90 393.00 C114.23 393.00 115.57 389.80 116.90 389.80 C117.87 389.80 118.83 395.34 119.80 397.30 C120.80 399.33 121.80 400.85 122.80 402.30 C123.47 403.27 124.13 404.90 124.80 404.90 C126.10 404.90 127.40 397.38 128.70 396.30 C129.57 395.58 130.43 394.90 131.30 394.90 C132.10 394.90 132.90 396.30 133.70 396.30 C135.03 396.30 136.37 389.64 137.70 387.40 C138.67 385.77 139.63 385.61 140.60 383.40 C141.27 381.88 141.93 374.75 142.60 372.50 C143.27 370.25 143.93 367.60 144.60 367.60 C145.60 367.60 146.60 369.60 147.60 369.60 C148.27 369.60 148.93 368.60 149.60 368.60 C150.57 368.60 151.53 372.67 152.50 374.50 C153.37 376.14 154.23 379.10 155.10 379.10 C155.90 379.10 156.70 373.50 157.50 373.50 C158.17 373.50 158.83 374.14 159.50 374.50 C160.30 374.93 161.10 375.16 161.90 375.90 C162.73 376.67 163.57 380.21 164.40 381.50 C165.40 383.05 166.40 385.00 167.40 385.00 C168.73 385.00 170.07 382.89 171.40 381.50 C172.70 380.15 174.00 378.01 175.30 376.50 C176.97 374.56 178.63 374.60 180.30 371.20 C180.93 369.91 181.57 361.75 182.20 359.00 C183.03 355.39 183.87 351.00 184.70 351.00 C185.60 351.00 186.50 354.57 187.40 358.00 C188.57 362.45 189.73 378.65 190.90 385.40 C191.90 391.18 192.90 397.94 193.90 399.30 C195.20 401.07 196.50 402.30 197.80 402.30 C199.13 402.30 200.47 401.92 201.80 401.30 C202.80 400.83 203.80 394.90 204.80 394.90 C205.13 394.90 205.47 399.64 205.80 400.30 C206.60 401.89 207.40 402.90 208.20 402.90 C209.37 402.90 210.53 397.31 211.70 396.30 C212.50 395.61 213.30 395.48 214.10 394.90 C214.97 394.27 215.83 393.67 216.70 392.40 C217.70 390.93 218.70 384.86 219.70 382.50 C221.00 379.44 222.30 378.08 223.60 375.50 C224.73 373.25 225.87 368.00 227.00 368.00 C228.20 368.00 229.40 373.42 230.60 377.50 C231.90 381.92 233.20 392.34 234.50 396.30 C235.83 400.37 237.17 404.11 238.50 405.20 C239.83 406.29 241.17 407.20 242.50 407.20 C244.13 407.20 245.77 406.50 247.40 406.20 C248.60 405.98 249.80 405.80 251.00 405.60" fill="none" stroke="#6262d4" stroke-width="1.00" stroke-linejoin="round"/>
<path d="M306.00 324.60 C306.97 324.13 307.93 323.73 308.90 323.20 C310.57 322.28 312.23 319.90 313.90 319.90 C315.23 319.90 316.57 320.20 317.90 320.20 C319.20 320.20 320.50 319.30 321.80 319.30 C323.13 319.30 324.47 320.27 325.80 320.60 C326.80 320.84 327.80 320.98 328.80 321.20 C330.10 321.49 331.40 322.20 332.70 322.20 C334.03 322.20 335.37 321.45 336.70 321.20 C338.03 320.95 339.37 320.93 340.70 320.60 C342.00 320.28 343.30 317.90 344.60 317.90 C345.93 317.90 347.27 319.19 348.60 319.90 C349.93 320.61 351.27 322.20 352.60 322.20 C353.77 322.20 354.93 321.37 356.10 320.20 C357.23 319.06 358.37 311.49 359.50 306.40 C360.83 300.42 362.17 286.20 363.50 286.20 C364.33 286.20 365.17 290.62 366.00 292.50 C367.13 295.06 368.27 299.40 369.40 299.40 C370.40 299.40 371.40 292.50 372.40 292.50 C373.20 292.50 374.00 298.87 374.80 302.40 C375.63 306.08 376.47 312.40 377.30 314.30 C378.30 316.58 379.30 318.70 380.30 318.70 C381.77 318.70 383.23 317.30 384.70 315.30 C385.80 313.80 386.90 304.40 388.00 300.40 C388.97 296.88 389.93 293.30 390.90 291.50 C391.90 289.64 392.90 289.36 393.90 287.50 C395.43 284.64 396.97 271.70 398.50 271.70 C399.63 271.70 400.77 274.79 401.90 276.60 C402.73 277.93 403.57 281.00 404.40 281.00 C405.33 281.00 406.27 274.30 407.20 274.30 C408.07 274.30 408.93 280.08 409.80 283.60 C411.10 288.89 412.40 296.26 413.70 302.40 C414.70 307.12 415.70 312.98 416.70 316.30 C417.50 318.95 418.30 322.60 419.10 322.60 C419.77 322.60 420.43 321.31 421.10 320.60 C421.77 319.89 422.43 318.30 423.10 318.30 C423.93 318.30 424.77 322.20 425.60 322.20 C426.93 322.20 428.27 318.07 429.60 316.30 C431.27 314.09 432.93 311.45 434.60 310.30 C435.23 309.86 435.87 309.80 436.50 309.30 C437.83 308.24 439.17 303.67 440.50 300.40 C441.83 297.13 443.17 291.79 444.50 289.50 C445.80 287.27 447.10 287.31 448.40 284.60 C449.40 282.51 450.40 273.40 451.40 268.70 C452.53 263.37 453.67 254.40 454.80 254.40 C455.47 254.40 456.13 256.49 456.80 258.40 C457.63 260.78 458.47 271.70 459.30 271.70 C460.17 271.70 461.03 269.10 461.90 269.10 C462.73 269.10 463.57 274.10 464.40 277.60 C465.57 282.50 466.73 294.29 467.90 297.50 C469.10 300.80 470.30 301.05 471.50 304.00 C472.43 306.29 473.37 310.74 474.30 314.30 C474.77 316.08 475.23 318.69 475.70 319.80 C476.57 321.87 477.43 324.00 478.30 324.00 C479.37 324.00 480.43 323.57 481.50 323.30 C483.17 322.87 484.83 322.24 486.50 321.70 C488.00 321.21 489.50 320.20 491.00 320.20 C491.83 320.20 492.67 321.10 493.50 321.10 C494.57 321.10 495.63 320.40 496.70 319.80 C498.83 318.60 500.97 314.47 503.10 312.80 C505.00 311.31 506.90 309.30 508.80 309.30 C510.30 309.30 511.80 312.00 513.30 314.10 C514.57 315.88 515.83 321.70 517.10 321.70 C517.73 321.70 518.37 320.20 519.00 320.20 C519.63 320.20 520.27 322.40 520.90 322.40 C521.77 322.40 522.63 322.00 523.50 322.00 C524.53 322.00 525.57 323.70 526.60 324.00 C527.47 324.25 528.33 324.35 529.20 324.50 C530.03 324.65 530.87 324.90 531.70 324.90 C532.33 324.90 532.97 322.00 533.60 322.00 C534.23 322.00 534.87 322.42 535.50 322.70 C536.03 322.94 536.57 323.30 537.10 323.60" fill="none" stroke="#ff5a5a" stroke-width="1.00" stroke-linejoin="round"/>
<path d="M306.00 368.60 C306.83 367.90 307.67 367.18 308.50 366.50 C309.30 365.85 310.10 365.00 310.90 364.60 C311.43 364.33 311.97 364.00 312.50 364.00 C312.83 364.00 313.17 364.80 313.50 364.80 C313.97 364.80 314.43 362.60 314.90 362.60 C315.37 362.60 315.83 364.06 316.30 364.40 C316.83 364.79 317.37 365.20 317.90 365.20 C318.27 365.20 318.63 363.60 319.00 363.60 C319.60 363.60 320.20 363.82 320.80 364.00 C322.13 364.39 323.47 365.50 324.80 366.00 C326.13 366.50 327.47 367.20 328.80 367.20 C329.47 367.20 330.13 366.10 330.80 365.60 C331.77 364.88 332.73 364.29 333.70 363.60 C335.03 362.64 336.37 361.58 337.70 360.60 C339.03 359.62 340.37 358.81 341.70 357.70 C342.47 357.06 343.23 355.90 344.00 355.50 C344.53 355.22 345.07 354.90 345.60 354.90 C346.23 354.90 346.87 355.24 347.50 355.50 C348.20 355.78 348.90 356.32 349.60 356.70 C350.93 357.42 352.27 357.95 353.60 358.70 C354.90 359.43 356.20 361.20 357.50 361.20 C358.50 361.20 359.50 359.62 360.50 357.70 C361.30 356.17 362.10 346.30 362.90 346.30 C363.57 346.30 364.23 350.58 364.90 352.70 C365.73 355.35 366.57 360.60 367.40 360.60 C368.40 360.60 369.40 357.76 370.40 354.70 C371.20 352.26 372.00 339.60 372.80 339.60 C373.47 339.60 374.13 347.69 374.80 349.70 C375.83 352.82 376.87 356.10 377.90 356.10 C379.03 356.10 380.17 355.42 381.30 354.70 C382.63 353.85 383.97 351.79 385.30 348.70 C386.30 346.38 387.30 339.47 388.30 334.90 C389.30 330.33 390.30 321.30 391.30 321.30 C392.17 321.30 393.03 326.14 393.90 327.70 C394.57 328.90 395.23 330.60 395.90 330.60 C396.57 330.60 397.23 326.50 397.90 324.70 C398.57 322.90 399.23 320.75 399.90 319.70 C400.57 318.65 401.23 317.40 401.90 317.40 C402.53 317.40 403.17 318.70 403.80 318.70 C404.80 318.70 405.80 313.40 406.80 313.40 C407.80 313.40 408.80 318.70 409.80 322.70 C410.80 326.70 411.80 334.25 412.80 339.60 C413.77 344.78 414.73 349.74 415.70 354.40 C416.57 358.58 417.43 366.30 418.30 366.30 C419.10 366.30 419.90 362.20 420.70 361.40 C421.50 360.60 422.30 359.80 423.10 359.80 C423.93 359.80 424.77 361.00 425.60 361.00 C426.93 361.00 428.27 358.65 429.60 357.40 C431.27 355.84 432.93 354.18 434.60 352.50 C435.57 351.52 436.53 350.67 437.50 349.50 C438.83 347.88 440.17 345.77 441.50 343.50 C442.83 341.23 444.17 337.75 445.50 335.60 C446.47 334.04 447.43 333.65 448.40 331.60 C449.40 329.48 450.40 322.07 451.40 317.80 C452.53 312.96 453.67 304.30 454.80 304.30 C455.67 304.30 456.53 308.41 457.40 311.80 C458.03 314.27 458.67 322.70 459.30 322.70 C460.23 322.70 461.17 319.30 462.10 319.30 C463.07 319.30 464.03 325.42 465.00 329.70 C465.97 333.98 466.93 344.84 467.90 346.50 C468.90 348.21 469.90 347.97 470.90 349.50 C471.90 351.03 472.90 357.39 473.90 359.40 C475.20 362.01 476.50 363.95 477.80 364.90 C479.47 366.12 481.13 367.30 482.80 367.30 C484.47 367.30 486.13 365.44 487.80 364.30 C489.43 363.18 491.07 361.40 492.70 360.40 C493.47 359.93 494.23 359.46 495.00 359.20 C496.10 358.83 497.20 358.87 498.30 358.40 C498.70 358.23 499.10 357.87 499.50 357.20 C499.90 356.53 500.30 351.00 500.70 351.00 C501.30 351.00 501.90 357.20 502.50 357.20 C503.00 357.20 503.50 352.30 504.00 352.30 C504.83 352.30 505.67 352.90 506.50 352.90 C507.43 352.90 508.37 351.00 509.30 351.00 C510.00 351.00 510.70 353.02 511.40 354.70 C511.80 355.66 512.20 357.93 512.60 358.80 C513.83 361.48 515.07 364.10 516.30 364.10 C516.97 364.10 517.63 362.90 518.30 362.90 C518.70 362.90 519.10 363.70 519.50 363.70 C520.33 363.70 521.17 362.10 522.00 362.10 C522.83 362.10 523.67 363.34 524.50 363.70 C525.87 364.30 527.23 364.21 528.60 365.00 C529.13 365.31 529.67 367.40 530.20 367.40 C530.47 367.40 530.73 364.50 531.00 364.50 C531.50 364.50 532.00 368.20 532.50 368.20 C533.37 368.20 534.23 364.10 535.10 364.10 C535.70 364.10 536.30 365.50 536.90 366.20" fill="none" stroke="#45ad58" stroke-width="1.00" stroke-linejoin="round"/>
<path d="M306.00 404.30 C307.63 404.30 309.27 404.30 310.90 404.30 C312.23 404.30 313.57 405.60 314.90 405.60 C316.23 405.60 317.57 404.90 318.90 404.90 C320.20 404.90 321.50 405.20 322.80 405.20 C324.13 405.20 325.47 404.30 326.80 404.30 C328.13 404.30 329.47 405.20 330.80 405.20 C332.10 405.20 333.40 405.03 334.70 404.90 C336.03 404.76 337.37 404.61 338.70 404.30 C339.70 404.07 340.70 403.39 341.70 402.90 C343.00 402.27 344.30 400.90 345.60 400.90 C346.93 400.90 348.27 403.30 349.60 403.30 C350.93 403.30 352.27 403.30 353.60 403.30 C354.43 403.30 355.27 401.88 356.10 400.90 C356.90 399.96 357.70 399.17 358.50 397.30 C359.17 395.74 359.83 390.34 360.50 387.40 C361.30 383.87 362.10 377.90 362.90 377.90 C363.77 377.90 364.63 382.46 365.50 385.40 C366.33 388.23 367.17 395.70 368.00 395.70 C368.80 395.70 369.60 391.06 370.40 387.40 C371.20 383.74 372.00 371.20 372.80 371.20 C373.47 371.20 374.13 378.08 374.80 381.50 C375.63 385.78 376.47 394.30 377.30 394.30 C378.63 394.30 379.97 393.74 381.30 393.00 C382.63 392.26 383.97 388.98 385.30 385.40 C386.30 382.72 387.30 377.47 388.30 372.50 C388.93 369.35 389.57 363.23 390.20 361.60 C390.80 360.06 391.40 358.60 392.00 358.60 C392.97 358.60 393.93 364.00 394.90 364.00 C395.90 364.00 396.90 360.90 397.90 358.70 C399.03 356.21 400.17 348.70 401.30 348.70 C402.13 348.70 402.97 350.10 403.80 350.10 C404.80 350.10 405.80 339.80 406.80 339.80 C407.80 339.80 408.80 345.16 409.80 349.70 C410.80 354.24 411.80 365.04 412.80 371.50 C413.77 377.75 414.73 383.29 415.70 388.40 C416.70 393.69 417.70 402.90 418.70 402.90 C419.50 402.90 420.30 399.53 421.10 399.30 C421.97 399.06 422.83 398.90 423.70 398.90 C424.67 398.90 425.63 401.30 426.60 401.30 C427.93 401.30 429.27 397.44 430.60 395.30 C431.93 393.16 433.27 389.94 434.60 388.40 C435.90 386.90 437.20 386.47 438.50 385.00 C439.83 383.49 441.17 380.80 442.50 378.50 C443.70 376.43 444.90 373.94 446.10 371.90 C447.00 370.37 447.90 369.88 448.80 367.60 C449.67 365.40 450.53 355.40 451.40 351.70 C452.53 346.87 453.67 340.80 454.80 340.80 C455.47 340.80 456.13 343.49 456.80 345.80 C457.63 348.69 458.47 360.60 459.30 360.60 C460.17 360.60 461.03 355.30 461.90 355.30 C462.93 355.30 463.97 362.85 465.00 367.60 C465.97 372.05 466.93 382.25 467.90 383.40 C468.90 384.59 469.90 384.29 470.90 385.40 C471.90 386.51 472.90 393.08 473.90 395.30 C475.20 398.19 476.50 400.98 477.80 401.70 C479.47 402.62 481.13 403.30 482.80 403.30 C484.77 403.30 486.73 403.30 488.70 403.30 C490.03 403.30 491.37 403.11 492.70 402.90 C495.03 402.53 497.37 400.41 499.70 398.90 C501.33 397.84 502.97 396.24 504.60 395.30 C505.93 394.54 507.27 393.40 508.60 393.40 C509.90 393.40 511.20 395.70 512.50 397.30 C513.83 398.94 515.17 402.71 516.50 403.70 C517.50 404.44 518.50 405.14 519.50 405.20 C525.30 405.52 531.10 405.47 536.90 405.60" fill="none" stroke="#6262d4" stroke-width="1.00" stroke-linejoin="round"/>
<text transform="translate(26.9 55.9) rotate(-90) scale(0.88 1)" font-size="6.1" fill="#222" stroke="#222" stroke-width="0.18" dominant-baseline="central">647</text>
<text transform="translate(31.9 56.5) rotate(-90) scale(0.88 1)" font-size="6.1" fill="#222" stroke="#222" stroke-width="0.18" dominant-baseline="central">670</text>
<text transform="translate(44.3 41.6) rotate(-90) scale(0.88 1)" font-size="6.1" fill="#222" stroke="#222" stroke-width="0.18" dominant-baseline="central">733</text>
<text transform="translate(55.3 16.9) rotate(-90) scale(0.88 1)" font-size="6.1" fill="#222" stroke="#222" stroke-width="0.18" dominant-baseline="central">786</text>
<text transform="translate(75.1 57.5) rotate(-90) scale(0.88 1)" font-size="6.1" fill="#222" stroke="#222" stroke-width="0.18" dominant-baseline="central">890</text>
<text transform="translate(89.4 61.5) rotate(-90) scale(0.88 1)" font-size="6.1" fill="#222" stroke="#222" stroke-width="0.18" dominant-baseline="central">962</text>
<text transform="translate(99.9 57.5) rotate(-90) scale(0.88 1)" font-size="6.1" fill="#222" stroke="#222" stroke-width="0.18" dominant-baseline="central">1013</text>
<text transform="translate(117.5 32.1) rotate(-90) scale(0.88 1)" font-size="6.1" fill="#222" stroke="#222" stroke-width="0.18" dominant-baseline="central">1099</text>
<text transform="translate(133.3 55.1) rotate(-90) scale(0.88 1)" font-size="6.1" fill="#222" stroke="#222" stroke-width="0.18" dominant-baseline="central">1182</text>
<text transform="translate(138.3 55.9) rotate(-90) scale(0.88 1)" font-size="6.1" fill="#222" stroke="#222" stroke-width="0.18" dominant-baseline="central">1209</text>
<text transform="translate(145.8 39.3) rotate(-90) scale(0.88 1)" font-size="6.1" fill="#222" stroke="#222" stroke-width="0.18" dominant-baseline="central">1242</text>
<text transform="translate(158.1 42.6) rotate(-90) scale(0.88 1)" font-size="6.1" fill="#222" stroke="#222" stroke-width="0.18" dominant-baseline="central">1306</text>
<text transform="translate(163.6 33.7) rotate(-90) scale(0.88 1)" font-size="6.1" fill="#222" stroke="#222" stroke-width="0.18" dominant-baseline="central">1335</text>
<text transform="translate(171.6 34.1) rotate(-90) scale(0.88 1)" font-size="6.1" fill="#222" stroke="#222" stroke-width="0.18" dominant-baseline="central">1372</text>
<text transform="translate(180.5 55.5) rotate(-90) scale(0.88 1)" font-size="6.1" fill="#222" stroke="#222" stroke-width="0.18" dominant-baseline="central">1419</text>
<text transform="translate(193.9 37.7) rotate(-90) scale(0.88 1)" font-size="6.1" fill="#222" stroke="#222" stroke-width="0.18" dominant-baseline="central">1485</text>
<text transform="translate(202.8 61.1) rotate(-90) scale(0.88 1)" font-size="6.1" fill="#222" stroke="#222" stroke-width="0.18" dominant-baseline="central">1530</text>
<text transform="translate(211.9 33.7) rotate(-90) scale(0.88 1)" font-size="6.1" fill="#222" stroke="#222" stroke-width="0.18" dominant-baseline="central">1577</text>
<text transform="translate(229.2 39.7) rotate(-90) scale(0.88 1)" font-size="6.1" fill="#222" stroke="#222" stroke-width="0.18" dominant-baseline="central">1662</text>
<text transform="translate(54.9 62.4) rotate(-90) scale(0.88 1)" font-size="6.1" fill="#222" stroke="#222" stroke-width="0.18" dominant-baseline="central">781</text>
<text transform="translate(43.4 84.7) rotate(-90) scale(0.88 1)" font-size="6.1" fill="#222" stroke="#222" stroke-width="0.18" dominant-baseline="central">728</text>
<text transform="translate(32.1 104.1) rotate(-90) scale(0.88 1)" font-size="6.1" fill="#222" stroke="#222" stroke-width="0.18" dominant-baseline="central">671</text>
<text transform="translate(72.7 108.0) rotate(-90) scale(0.88 1)" font-size="6.1" fill="#222" stroke="#222" stroke-width="0.18" dominant-baseline="central">876</text>
<text transform="translate(88.4 111.4) rotate(-90) scale(0.88 1)" font-size="6.1" fill="#222" stroke="#222" stroke-width="0.18" dominant-baseline="central">956</text>
<text transform="translate(99.5 102.1) rotate(-90) scale(0.88 1)" font-size="6.1" fill="#222" stroke="#222" stroke-width="0.18" dominant-baseline="central">1010</text>
<text transform="translate(108.9 105.5) rotate(-90) scale(0.88 1)" font-size="6.1" fill="#222" stroke="#222" stroke-width="0.18" dominant-baseline="central">1060</text>
<text transform="translate(117.8 87.6) rotate(-90) scale(0.88 1)" font-size="6.1" fill="#222" stroke="#222" stroke-width="0.18" dominant-baseline="central">1100</text>
<text transform="translate(132.9 103.5) rotate(-90) scale(0.88 1)" font-size="6.1" fill="#222" stroke="#222" stroke-width="0.18" dominant-baseline="central">1179</text>
<text transform="translate(137.9 107.5) rotate(-90) scale(0.88 1)" font-size="6.1" fill="#222" stroke="#222" stroke-width="0.18" dominant-baseline="central">1205</text>
<text transform="translate(145.2 92.2) rotate(-90) scale(0.88 1)" font-size="6.1" fill="#222" stroke="#222" stroke-width="0.18" dominant-baseline="central">1241</text>
<text transform="translate(157.7 93.6) rotate(-90) scale(0.88 1)" font-size="6.1" fill="#222" stroke="#222" stroke-width="0.18" dominant-baseline="central">1306</text>
<text transform="translate(163.6 84.3) rotate(-90) scale(0.88 1)" font-size="6.1" fill="#222" stroke="#222" stroke-width="0.18" dominant-baseline="central">1332</text>
<text transform="translate(170.6 86.6) rotate(-90) scale(0.88 1)" font-size="6.1" fill="#222" stroke="#222" stroke-width="0.18" dominant-baseline="central">1370</text>
<text transform="translate(179.9 105.5) rotate(-90) scale(0.88 1)" font-size="6.1" fill="#222" stroke="#222" stroke-width="0.18" dominant-baseline="central">1416</text>
<text transform="translate(193.1 85.0) rotate(-90) scale(0.88 1)" font-size="6.1" fill="#222" stroke="#222" stroke-width="0.18" dominant-baseline="central">1482</text>
<text transform="translate(202.4 111.4) rotate(-90) scale(0.88 1)" font-size="6.1" fill="#222" stroke="#222" stroke-width="0.18" dominant-baseline="central">1529</text>
<text transform="translate(211.3 81.7) rotate(-90) scale(0.88 1)" font-size="6.1" fill="#222" stroke="#222" stroke-width="0.18" dominant-baseline="central">1574</text>
<text transform="translate(229.2 94.2) rotate(-90) scale(0.88 1)" font-size="6.1" fill="#222" stroke="#222" stroke-width="0.18" dominant-baseline="central">1664</text>
<text transform="translate(54.7 112.4) rotate(-90) scale(0.88 1)" font-size="6.1" fill="#222" stroke="#222" stroke-width="0.18" dominant-baseline="central">783</text>
<text transform="translate(43.8 144.2) rotate(-90) scale(0.88 1)" font-size="6.1" fill="#222" stroke="#222" stroke-width="0.18" dominant-baseline="central">728</text>
<text transform="translate(31.9 166.4) rotate(-90) scale(0.88 1)" font-size="6.1" fill="#222" stroke="#222" stroke-width="0.18" dominant-baseline="central">667</text>
<text transform="translate(69.1 166.8) rotate(-90) scale(0.88 1)" font-size="6.1" fill="#222" stroke="#222" stroke-width="0.18" dominant-baseline="central">867</text>
<text transform="translate(74.1 165.4) rotate(-90) scale(0.88 1)" font-size="6.1" fill="#222" stroke="#222" stroke-width="0.18" dominant-baseline="central">881</text>
<text transform="translate(90.6 173.3) rotate(-90) scale(0.88 1)" font-size="6.1" fill="#222" stroke="#222" stroke-width="0.18" dominant-baseline="central">967</text>
<text transform="translate(98.9 165.4) rotate(-90) scale(0.88 1)" font-size="6.1" fill="#222" stroke="#222" stroke-width="0.18" dominant-baseline="central">1009</text>
<text transform="translate(109.5 164.8) rotate(-90) scale(0.88 1)" font-size="6.1" fill="#222" stroke="#222" stroke-width="0.18" dominant-baseline="central">1066</text>
<text transform="translate(117.8 146.9) rotate(-90) scale(0.88 1)" font-size="6.1" fill="#222" stroke="#222" stroke-width="0.18" dominant-baseline="central">1100</text>
<text transform="translate(132.9 168.0) rotate(-90) scale(0.88 1)" font-size="6.1" fill="#222" stroke="#222" stroke-width="0.18" dominant-baseline="central">1179</text>
<text transform="translate(138.7 170.3) rotate(-90) scale(0.88 1)" font-size="6.1" fill="#222" stroke="#222" stroke-width="0.18" dominant-baseline="central">1207</text>
<text transform="translate(145.8 154.5) rotate(-90) scale(0.88 1)" font-size="6.1" fill="#222" stroke="#222" stroke-width="0.18" dominant-baseline="central">1242</text>
<text transform="translate(158.1 160.4) rotate(-90) scale(0.88 1)" font-size="6.1" fill="#222" stroke="#222" stroke-width="0.18" dominant-baseline="central">1310</text>
<text transform="translate(163.6 149.5) rotate(-90) scale(0.88 1)" font-size="6.1" fill="#222" stroke="#222" stroke-width="0.18" dominant-baseline="central">1334</text>
<text transform="translate(171.4 150.5) rotate(-90) scale(0.88 1)" font-size="6.1" fill="#222" stroke="#222" stroke-width="0.18" dominant-baseline="central">1371</text>
<text transform="translate(179.9 166.0) rotate(-90) scale(0.88 1)" font-size="6.1" fill="#222" stroke="#222" stroke-width="0.18" dominant-baseline="central">1418</text>
<text transform="translate(188.8 168.4) rotate(-90) scale(0.88 1)" font-size="6.1" fill="#222" stroke="#222" stroke-width="0.18" dominant-baseline="central">1462</text>
<text transform="translate(193.5 147.5) rotate(-90) scale(0.88 1)" font-size="6.1" fill="#222" stroke="#222" stroke-width="0.18" dominant-baseline="central">1484</text>
<text transform="translate(199.0 170.0) rotate(-90) scale(0.88 1)" font-size="6.1" fill="#222" stroke="#222" stroke-width="0.18" dominant-baseline="central">1504</text>
<text transform="translate(203.3 172.8) rotate(-90) scale(0.88 1)" font-size="6.1" fill="#222" stroke="#222" stroke-width="0.18" dominant-baseline="central">1528</text>
<text transform="translate(211.7 146.2) rotate(-90) scale(0.88 1)" font-size="6.1" fill="#222" stroke="#222" stroke-width="0.18" dominant-baseline="central">1576</text>
<text transform="translate(229.2 159.4) rotate(-90) scale(0.88 1)" font-size="6.1" fill="#222" stroke="#222" stroke-width="0.18" dominant-baseline="central">1663</text>
<text transform="translate(301.9 67.5) rotate(-90) scale(0.88 1)" font-size="6.1" fill="#222" stroke="#222" stroke-width="0.18" dominant-baseline="central">623</text>
<text transform="translate(307.5 64.5) rotate(-90) scale(0.88 1)" font-size="6.1" fill="#222" stroke="#222" stroke-width="0.18" dominant-baseline="central">647</text>
<text transform="translate(312.5 62.9) rotate(-90) scale(0.88 1)" font-size="6.1" fill="#222" stroke="#222" stroke-width="0.18" dominant-baseline="central">672</text>
<text transform="translate(327.3 70.0) rotate(-90) scale(0.88 1)" font-size="6.1" fill="#222" stroke="#222" stroke-width="0.18" dominant-baseline="central">749</text>
<text transform="translate(342.8 52.2) rotate(-90) scale(0.88 1)" font-size="6.1" fill="#222" stroke="#222" stroke-width="0.18" dominant-baseline="central">828</text>
<text transform="translate(348.7 45.6) rotate(-90) scale(0.88 1)" font-size="6.1" fill="#222" stroke="#222" stroke-width="0.18" dominant-baseline="central">854</text>
<text transform="translate(358.1 54.6) rotate(-90) scale(0.88 1)" font-size="6.1" fill="#222" stroke="#222" stroke-width="0.18" dominant-baseline="central">900</text>
<text transform="translate(365.4 50.2) rotate(-90) scale(0.88 1)" font-size="6.1" fill="#222" stroke="#222" stroke-width="0.18" dominant-baseline="central">940</text>
<text transform="translate(370.6 52.6) rotate(-90) scale(0.88 1)" font-size="6.1" fill="#222" stroke="#222" stroke-width="0.18" dominant-baseline="central">960</text>
<text transform="translate(379.1 43.7) rotate(-90) scale(0.88 1)" font-size="6.1" fill="#222" stroke="#222" stroke-width="0.18" dominant-baseline="central">1004</text>
<text transform="translate(384.5 59.5) rotate(-90) scale(0.88 1)" font-size="6.1" fill="#222" stroke="#222" stroke-width="0.18" dominant-baseline="central">1032</text>
<text transform="translate(393.4 60.9) rotate(-90) scale(0.88 1)" font-size="6.1" fill="#222" stroke="#222" stroke-width="0.18" dominant-baseline="central">1075</text>
<text transform="translate(397.8 65.5) rotate(-90) scale(0.88 1)" font-size="6.1" fill="#222" stroke="#222" stroke-width="0.18" dominant-baseline="central">1103</text>
<text transform="translate(401.8 66.5) rotate(-90) scale(0.88 1)" font-size="6.1" fill="#222" stroke="#222" stroke-width="0.18" dominant-baseline="central">1124</text>
<text transform="translate(409.7 64.1) rotate(-90) scale(0.88 1)" font-size="6.1" fill="#222" stroke="#222" stroke-width="0.18" dominant-baseline="central">1157</text>
<text transform="translate(414.3 67.5) rotate(-90) scale(0.88 1)" font-size="6.1" fill="#222" stroke="#222" stroke-width="0.18" dominant-baseline="central">1171</text>
<text transform="translate(419.6 68.8) rotate(-90) scale(0.88 1)" font-size="6.1" fill="#222" stroke="#222" stroke-width="0.18" dominant-baseline="central">1209</text>
<text transform="translate(428.1 59.5) rotate(-90) scale(0.88 1)" font-size="6.1" fill="#222" stroke="#222" stroke-width="0.18" dominant-baseline="central">1251</text>
<text transform="translate(446.6 37.7) rotate(-90) scale(0.88 1)" font-size="6.1" fill="#222" stroke="#222" stroke-width="0.18" dominant-baseline="central">1340</text>
<text transform="translate(469.1 22.2) rotate(-90) scale(0.88 1)" font-size="6.1" fill="#222" stroke="#222" stroke-width="0.18" dominant-baseline="central">1451</text>
<text transform="translate(495.6 67.4) rotate(-90) scale(0.88 1)" font-size="6.1" fill="#222" stroke="#222" stroke-width="0.18" dominant-baseline="central">1584</text>
<text transform="translate(501.6 55.1) rotate(-90) scale(0.88 1)" font-size="6.1" fill="#222" stroke="#222" stroke-width="0.18" dominant-baseline="central">1615</text>
<text transform="translate(510.7 34.1) rotate(-90) scale(0.88 1)" font-size="6.1" fill="#222" stroke="#222" stroke-width="0.18" dominant-baseline="central">1659</text>
<text transform="translate(379.6 82.6) rotate(-90) scale(0.88 1)" font-size="6.1" fill="#222" stroke="#222" stroke-width="0.18" dominant-baseline="central">1003</text>
<text transform="translate(301.9 121.9) rotate(-90) scale(0.88 1)" font-size="6.1" fill="#222" stroke="#222" stroke-width="0.18" dominant-baseline="central">622</text>
<text transform="translate(305.5 123.1) rotate(-90) scale(0.88 1)" font-size="6.1" fill="#222" stroke="#222" stroke-width="0.18" dominant-baseline="central">644</text>
<text transform="translate(309.9 123.1) rotate(-90) scale(0.88 1)" font-size="6.1" fill="#222" stroke="#222" stroke-width="0.18" dominant-baseline="central">666</text>
<text transform="translate(326.3 123.5) rotate(-90) scale(0.88 1)" font-size="6.1" fill="#222" stroke="#222" stroke-width="0.18" dominant-baseline="central">743</text>
<text transform="translate(342.8 116.6) rotate(-90) scale(0.88 1)" font-size="6.1" fill="#222" stroke="#222" stroke-width="0.18" dominant-baseline="central">827</text>
<text transform="translate(348.1 111.6) rotate(-90) scale(0.88 1)" font-size="6.1" fill="#222" stroke="#222" stroke-width="0.18" dominant-baseline="central">853</text>
<text transform="translate(358.6 110.6) rotate(-90) scale(0.88 1)" font-size="6.1" fill="#222" stroke="#222" stroke-width="0.18" dominant-baseline="central">901</text>
<text transform="translate(364.6 105.3) rotate(-90) scale(0.88 1)" font-size="6.1" fill="#222" stroke="#222" stroke-width="0.18" dominant-baseline="central">938</text>
<text transform="translate(369.4 108.7) rotate(-90) scale(0.88 1)" font-size="6.1" fill="#222" stroke="#222" stroke-width="0.18" dominant-baseline="central">961</text>
<text transform="translate(383.9 115.2) rotate(-90) scale(0.88 1)" font-size="6.1" fill="#222" stroke="#222" stroke-width="0.18" dominant-baseline="central">1032</text>
<text transform="translate(387.9 117.6) rotate(-90) scale(0.88 1)" font-size="6.1" fill="#222" stroke="#222" stroke-width="0.18" dominant-baseline="central">1056</text>
<text transform="translate(393.4 120.0) rotate(-90) scale(0.88 1)" font-size="6.1" fill="#222" stroke="#222" stroke-width="0.18" dominant-baseline="central">1083</text>
<text transform="translate(397.0 119.6) rotate(-90) scale(0.88 1)" font-size="6.1" fill="#222" stroke="#222" stroke-width="0.18" dominant-baseline="central">1104</text>
<text transform="translate(403.4 120.6) rotate(-90) scale(0.88 1)" font-size="6.1" fill="#222" stroke="#222" stroke-width="0.18" dominant-baseline="central">1126</text>
<text transform="translate(414.3 120.6) rotate(-90) scale(0.88 1)" font-size="6.1" fill="#222" stroke="#222" stroke-width="0.18" dominant-baseline="central">1178</text>
<text transform="translate(419.6 118.6) rotate(-90) scale(0.88 1)" font-size="6.1" fill="#222" stroke="#222" stroke-width="0.18" dominant-baseline="central">1209</text>
<text transform="translate(433.1 112.0) rotate(-90) scale(0.88 1)" font-size="6.1" fill="#222" stroke="#222" stroke-width="0.18" dominant-baseline="central">1275</text>
<text transform="translate(443.0 102.1) rotate(-90) scale(0.88 1)" font-size="6.1" fill="#222" stroke="#222" stroke-width="0.18" dominant-baseline="central">1319</text>
<text transform="translate(446.0 102.1) rotate(-90) scale(0.88 1)" font-size="6.1" fill="#222" stroke="#222" stroke-width="0.18" dominant-baseline="central">1338</text>
<text transform="translate(468.5 88.5) rotate(-90) scale(0.88 1)" font-size="6.1" fill="#222" stroke="#222" stroke-width="0.18" dominant-baseline="central">1449</text>
<text transform="translate(495.3 123.1) rotate(-90) scale(0.88 1)" font-size="6.1" fill="#222" stroke="#222" stroke-width="0.18" dominant-baseline="central">1586</text>
<text transform="translate(499.6 117.6) rotate(-90) scale(0.88 1)" font-size="6.1" fill="#222" stroke="#222" stroke-width="0.18" dominant-baseline="central">1605</text>
<text transform="translate(504.2 116.0) rotate(-90) scale(0.88 1)" font-size="6.1" fill="#222" stroke="#222" stroke-width="0.18" dominant-baseline="central">1618</text>
<text transform="translate(510.7 92.8) rotate(-90) scale(0.88 1)" font-size="6.1" fill="#222" stroke="#222" stroke-width="0.18" dominant-baseline="central">1655</text>
<text transform="translate(379.2 134.8) rotate(-90) scale(0.88 1)" font-size="6.1" fill="#222" stroke="#222" stroke-width="0.18" dominant-baseline="central">1003</text>
<text transform="translate(301.9 173.4) rotate(-90) scale(0.88 1)" font-size="6.1" fill="#222" stroke="#222" stroke-width="0.18" dominant-baseline="central">622</text>
<text transform="translate(305.5 173.8) rotate(-90) scale(0.88 1)" font-size="6.1" fill="#222" stroke="#222" stroke-width="0.18" dominant-baseline="central">644</text>
<text transform="translate(309.9 174.4) rotate(-90) scale(0.88 1)" font-size="6.1" fill="#222" stroke="#222" stroke-width="0.18" dominant-baseline="central">667</text>
<text transform="translate(326.3 174.4) rotate(-90) scale(0.88 1)" font-size="6.1" fill="#222" stroke="#222" stroke-width="0.18" dominant-baseline="central">744</text>
<text transform="translate(342.8 168.5) rotate(-90) scale(0.88 1)" font-size="6.1" fill="#222" stroke="#222" stroke-width="0.18" dominant-baseline="central">827</text>
<text transform="translate(347.1 165.5) rotate(-90) scale(0.88 1)" font-size="6.1" fill="#222" stroke="#222" stroke-width="0.18" dominant-baseline="central">851</text>
<text transform="translate(350.7 165.5) rotate(-90) scale(0.88 1)" font-size="6.1" fill="#222" stroke="#222" stroke-width="0.18" dominant-baseline="central">864</text>
<text transform="translate(356.1 161.5) rotate(-90) scale(0.88 1)" font-size="6.1" fill="#222" stroke="#222" stroke-width="0.18" dominant-baseline="central">884</text>
<text transform="translate(364.6 156.0) rotate(-90) scale(0.88 1)" font-size="6.1" fill="#222" stroke="#222" stroke-width="0.18" dominant-baseline="central">938</text>
<text transform="translate(369.4 156.6) rotate(-90) scale(0.88 1)" font-size="6.1" fill="#222" stroke="#222" stroke-width="0.18" dominant-baseline="central">960</text>
<text transform="translate(383.9 166.5) rotate(-90) scale(0.88 1)" font-size="6.1" fill="#222" stroke="#222" stroke-width="0.18" dominant-baseline="central">1032</text>
<text transform="translate(387.9 169.1) rotate(-90) scale(0.88 1)" font-size="6.1" fill="#222" stroke="#222" stroke-width="0.18" dominant-baseline="central">1053</text>
<text transform="translate(393.8 172.5) rotate(-90) scale(0.88 1)" font-size="6.1" fill="#222" stroke="#222" stroke-width="0.18" dominant-baseline="central">1081</text>
<text transform="translate(397.8 173.0) rotate(-90) scale(0.88 1)" font-size="6.1" fill="#222" stroke="#222" stroke-width="0.18" dominant-baseline="central">1102</text>
<text transform="translate(402.4 172.5) rotate(-90) scale(0.88 1)" font-size="6.1" fill="#222" stroke="#222" stroke-width="0.18" dominant-baseline="central">1126</text>
<text transform="translate(409.7 175.4) rotate(-90) scale(0.88 1)" font-size="6.1" fill="#222" stroke="#222" stroke-width="0.18" dominant-baseline="central">1158</text>
<text transform="translate(414.9 173.0) rotate(-90) scale(0.88 1)" font-size="6.1" fill="#222" stroke="#222" stroke-width="0.18" dominant-baseline="central">1174</text>
<text transform="translate(420.2 169.9) rotate(-90) scale(0.88 1)" font-size="6.1" fill="#222" stroke="#222" stroke-width="0.18" dominant-baseline="central">1208</text>
<text transform="translate(432.7 165.5) rotate(-90) scale(0.88 1)" font-size="6.1" fill="#222" stroke="#222" stroke-width="0.18" dominant-baseline="central">1270</text>
<text transform="translate(442.0 158.6) rotate(-90) scale(0.88 1)" font-size="6.1" fill="#222" stroke="#222" stroke-width="0.18" dominant-baseline="central">1317</text>
<text transform="translate(445.4 157.2) rotate(-90) scale(0.88 1)" font-size="6.1" fill="#222" stroke="#222" stroke-width="0.18" dominant-baseline="central">1337</text>
<text transform="translate(468.5 145.3) rotate(-90) scale(0.88 1)" font-size="6.1" fill="#222" stroke="#222" stroke-width="0.18" dominant-baseline="central">1449</text>
<text transform="translate(495.3 176.4) rotate(-90) scale(0.88 1)" font-size="6.1" fill="#222" stroke="#222" stroke-width="0.18" dominant-baseline="central">1585</text>
<text transform="translate(498.8 170.5) rotate(-90) scale(0.88 1)" font-size="6.1" fill="#222" stroke="#222" stroke-width="0.18" dominant-baseline="central">1606</text>
<text transform="translate(502.8 169.5) rotate(-90) scale(0.88 1)" font-size="6.1" fill="#222" stroke="#222" stroke-width="0.18" dominant-baseline="central">1615</text>
<text transform="translate(510.7 154.8) rotate(-90) scale(0.88 1)" font-size="6.1" fill="#222" stroke="#222" stroke-width="0.18" dominant-baseline="central">1655</text>
<text transform="translate(50.7 303.5) rotate(-90) scale(0.88 1)" font-size="6.1" fill="#222" stroke="#222" stroke-width="0.06" dominant-baseline="central">753</text>
<text transform="translate(57.9 299.6) rotate(-90) scale(0.88 1)" font-size="6.1" fill="#222" stroke="#222" stroke-width="0.06" dominant-baseline="central">790</text>
<text transform="translate(63.2 298.6) rotate(-90) scale(0.88 1)" font-size="6.1" fill="#222" stroke="#222" stroke-width="0.06" dominant-baseline="central">818</text>
<text transform="translate(72.1 279.3) rotate(-90) scale(0.88 1)" font-size="6.1" fill="#222" stroke="#222" stroke-width="0.06" dominant-baseline="central">862</text>
<text transform="translate(84.0 286.7) rotate(-90) scale(0.88 1)" font-size="6.1" fill="#222" stroke="#222" stroke-width="0.06" dominant-baseline="central">925</text>
<text transform="translate(98.3 304.5) rotate(-90) scale(0.88 1)" font-size="6.1" fill="#222" stroke="#222" stroke-width="0.06" dominant-baseline="central">1002</text>
<text transform="translate(104.4 299.3) rotate(-90) scale(0.88 1)" font-size="6.1" fill="#222" stroke="#222" stroke-width="0.06" dominant-baseline="central">1032</text>
<text transform="translate(110.5 302.5) rotate(-90) scale(0.88 1)" font-size="6.1" fill="#222" stroke="#222" stroke-width="0.06" dominant-baseline="central">1066</text>
<text transform="translate(116.1 303.0) rotate(-90) scale(0.88 1)" font-size="6.1" fill="#222" stroke="#222" stroke-width="0.06" dominant-baseline="central">1097</text>
<text transform="translate(120.4 307.0) rotate(-90) scale(0.88 1)" font-size="6.1" fill="#222" stroke="#222" stroke-width="0.06" dominant-baseline="central">1121</text>
<text transform="translate(129.3 306.4) rotate(-90) scale(0.88 1)" font-size="6.1" fill="#222" stroke="#222" stroke-width="0.06" dominant-baseline="central">1161</text>
<text transform="translate(135.3 305.0) rotate(-90) scale(0.88 1)" font-size="6.1" fill="#222" stroke="#222" stroke-width="0.06" dominant-baseline="central">1195</text>
<text transform="translate(145.8 268.7) rotate(-90) scale(0.88 1)" font-size="6.1" fill="#222" stroke="#222" stroke-width="0.06" dominant-baseline="central">1246</text>
<text transform="translate(149.8 269.3) rotate(-90) scale(0.88 1)" font-size="6.1" fill="#222" stroke="#222" stroke-width="0.06" dominant-baseline="central">1268</text>
<text transform="translate(163.6 284.0) rotate(-90) scale(0.88 1)" font-size="6.1" fill="#222" stroke="#222" stroke-width="0.06" dominant-baseline="central">1342</text>
<text transform="translate(185.6 254.3) rotate(-90) scale(0.88 1)" font-size="6.1" fill="#222" stroke="#222" stroke-width="0.06" dominant-baseline="central">1453</text>
<text transform="translate(205.4 301.5) rotate(-90) scale(0.88 1)" font-size="6.1" fill="#222" stroke="#222" stroke-width="0.06" dominant-baseline="central">1556</text>
<text transform="translate(227.2 279.3) rotate(-90) scale(0.88 1)" font-size="6.1" fill="#222" stroke="#222" stroke-width="0.06" dominant-baseline="central">1672</text>
<text transform="translate(70.8 316.3) rotate(-90) scale(0.88 1)" font-size="6.1" fill="#222" stroke="#222" stroke-width="0.06" dominant-baseline="central">854</text>
<text transform="translate(56.3 340.6) rotate(-90) scale(0.88 1)" font-size="6.1" fill="#222" stroke="#222" stroke-width="0.06" dominant-baseline="central">779</text>
<text transform="translate(63.2 331.7) rotate(-90) scale(0.88 1)" font-size="6.1" fill="#222" stroke="#222" stroke-width="0.06" dominant-baseline="central">818</text>
<text transform="translate(82.4 328.7) rotate(-90) scale(0.88 1)" font-size="6.1" fill="#222" stroke="#222" stroke-width="0.06" dominant-baseline="central">921</text>
<text transform="translate(87.0 329.7) rotate(-90) scale(0.88 1)" font-size="6.1" fill="#222" stroke="#222" stroke-width="0.06" dominant-baseline="central">936</text>
<text transform="translate(98.3 336.7) rotate(-90) scale(0.88 1)" font-size="6.1" fill="#222" stroke="#222" stroke-width="0.06" dominant-baseline="central">1003</text>
<text transform="translate(104.4 339.3) rotate(-90) scale(0.88 1)" font-size="6.1" fill="#222" stroke="#222" stroke-width="0.06" dominant-baseline="central">1032</text>
<text transform="translate(117.5 341.6) rotate(-90) scale(0.88 1)" font-size="6.1" fill="#222" stroke="#222" stroke-width="0.06" dominant-baseline="central">1101</text>
<text transform="translate(132.3 347.6) rotate(-90) scale(0.88 1)" font-size="6.1" fill="#222" stroke="#222" stroke-width="0.06" dominant-baseline="central">1181</text>
<text transform="translate(137.9 342.6) rotate(-90) scale(0.88 1)" font-size="6.1" fill="#222" stroke="#222" stroke-width="0.06" dominant-baseline="central">1207</text>
<text transform="translate(145.8 312.3) rotate(-90) scale(0.88 1)" font-size="6.1" fill="#222" stroke="#222" stroke-width="0.06" dominant-baseline="central">1245</text>
<text transform="translate(150.2 317.8) rotate(-90) scale(0.88 1)" font-size="6.1" fill="#222" stroke="#222" stroke-width="0.06" dominant-baseline="central">1270</text>
<text transform="translate(158.5 333.3) rotate(-90) scale(0.88 1)" font-size="6.1" fill="#222" stroke="#222" stroke-width="0.06" dominant-baseline="central">1320</text>
<text transform="translate(163.6 336.7) rotate(-90) scale(0.88 1)" font-size="6.1" fill="#222" stroke="#222" stroke-width="0.06" dominant-baseline="central">1342</text>
<text transform="translate(185.3 299.9) rotate(-90) scale(0.88 1)" font-size="6.1" fill="#222" stroke="#222" stroke-width="0.06" dominant-baseline="central">1449</text>
<text transform="translate(199.4 352.5) rotate(-90) scale(0.88 1)" font-size="6.1" fill="#222" stroke="#222" stroke-width="0.06" dominant-baseline="central">1529</text>
<text transform="translate(204.4 351.2) rotate(-90) scale(0.88 1)" font-size="6.1" fill="#222" stroke="#222" stroke-width="0.06" dominant-baseline="central">1553</text>
<text transform="translate(213.9 344.6) rotate(-90) scale(0.88 1)" font-size="6.1" fill="#222" stroke="#222" stroke-width="0.06" dominant-baseline="central">1604</text>
<text transform="translate(227.2 314.0) rotate(-90) scale(0.88 1)" font-size="6.1" fill="#222" stroke="#222" stroke-width="0.06" dominant-baseline="central">1672</text>
<text transform="translate(57.9 392.5) rotate(-90) scale(0.88 1)" font-size="6.1" fill="#222" stroke="#222" stroke-width="0.06" dominant-baseline="central">788</text>
<text transform="translate(63.2 384.0) rotate(-90) scale(0.88 1)" font-size="6.1" fill="#222" stroke="#222" stroke-width="0.06" dominant-baseline="central">816</text>
<text transform="translate(72.1 358.8) rotate(-90) scale(0.88 1)" font-size="6.1" fill="#222" stroke="#222" stroke-width="0.06" dominant-baseline="central">867</text>
<text transform="translate(76.1 352.9) rotate(-90) scale(0.88 1)" font-size="6.1" fill="#222" stroke="#222" stroke-width="0.06" dominant-baseline="central">883</text>
<text transform="translate(82.4 372.7) rotate(-90) scale(0.88 1)" font-size="6.1" fill="#222" stroke="#222" stroke-width="0.06" dominant-baseline="central">920</text>
<text transform="translate(87.0 373.3) rotate(-90) scale(0.88 1)" font-size="6.1" fill="#222" stroke="#222" stroke-width="0.06" dominant-baseline="central">939</text>
<text transform="translate(93.6 371.7) rotate(-90) scale(0.88 1)" font-size="6.1" fill="#222" stroke="#222" stroke-width="0.06" dominant-baseline="central">976</text>
<text transform="translate(98.3 387.2) rotate(-90) scale(0.88 1)" font-size="6.1" fill="#222" stroke="#222" stroke-width="0.06" dominant-baseline="central">1004</text>
<text transform="translate(104.4 385.4) rotate(-90) scale(0.88 1)" font-size="6.1" fill="#222" stroke="#222" stroke-width="0.06" dominant-baseline="central">1033</text>
<text transform="translate(110.1 388.6) rotate(-90) scale(0.88 1)" font-size="6.1" fill="#222" stroke="#222" stroke-width="0.06" dominant-baseline="central">1067</text>
<text transform="translate(116.5 387.6) rotate(-90) scale(0.88 1)" font-size="6.1" fill="#222" stroke="#222" stroke-width="0.06" dominant-baseline="central">1097</text>
<text transform="translate(132.3 393.1) rotate(-90) scale(0.88 1)" font-size="6.1" fill="#222" stroke="#222" stroke-width="0.06" dominant-baseline="central">1178</text>
<text transform="translate(144.6 365.4) rotate(-90) scale(0.88 1)" font-size="6.1" fill="#222" stroke="#222" stroke-width="0.06" dominant-baseline="central">1239</text>
<text transform="translate(149.8 367.8) rotate(-90) scale(0.88 1)" font-size="6.1" fill="#222" stroke="#222" stroke-width="0.06" dominant-baseline="central">1268</text>
<text transform="translate(157.1 372.1) rotate(-90) scale(0.88 1)" font-size="6.1" fill="#222" stroke="#222" stroke-width="0.06" dominant-baseline="central">1308</text>
<text transform="translate(161.7 374.1) rotate(-90) scale(0.88 1)" font-size="6.1" fill="#222" stroke="#222" stroke-width="0.06" dominant-baseline="central">1331</text>
<text transform="translate(184.9 349.5) rotate(-90) scale(0.88 1)" font-size="6.1" fill="#222" stroke="#222" stroke-width="0.06" dominant-baseline="central">1449</text>
<text transform="translate(204.8 391.2) rotate(-90) scale(0.88 1)" font-size="6.1" fill="#222" stroke="#222" stroke-width="0.06" dominant-baseline="central">1556</text>
<text transform="translate(213.9 393.1) rotate(-90) scale(0.88 1)" font-size="6.1" fill="#222" stroke="#222" stroke-width="0.06" dominant-baseline="central">1601</text>
<text transform="translate(227.6 366.6) rotate(-90) scale(0.88 1)" font-size="6.1" fill="#222" stroke="#222" stroke-width="0.06" dominant-baseline="central">1676</text>
<text transform="translate(345.2 314.9) rotate(-90) scale(0.88 1)" font-size="6.1" fill="#222" stroke="#222" stroke-width="0.06" dominant-baseline="central">804</text>
<text transform="translate(364.1 282.6) rotate(-90) scale(0.88 1)" font-size="6.1" fill="#222" stroke="#222" stroke-width="0.06" dominant-baseline="central">900</text>
<text transform="translate(373.0 289.6) rotate(-90) scale(0.88 1)" font-size="6.1" fill="#222" stroke="#222" stroke-width="0.06" dominant-baseline="central">948</text>
<text transform="translate(399.5 269.3) rotate(-90) scale(0.88 1)" font-size="6.1" fill="#222" stroke="#222" stroke-width="0.06" dominant-baseline="central">1084</text>
<text transform="translate(407.8 272.1) rotate(-90) scale(0.88 1)" font-size="6.1" fill="#222" stroke="#222" stroke-width="0.06" dominant-baseline="central">1124</text>
<text transform="translate(423.7 316.9) rotate(-90) scale(0.88 1)" font-size="6.1" fill="#222" stroke="#222" stroke-width="0.06" dominant-baseline="central">1209</text>
<text transform="translate(436.2 306.4) rotate(-90) scale(0.88 1)" font-size="6.1" fill="#222" stroke="#222" stroke-width="0.06" dominant-baseline="central">1273</text>
<text transform="translate(455.0 251.9) rotate(-90) scale(0.88 1)" font-size="6.1" fill="#222" stroke="#222" stroke-width="0.06" dominant-baseline="central">1371</text>
<text transform="translate(462.5 266.8) rotate(-90) scale(0.88 1)" font-size="6.1" fill="#222" stroke="#222" stroke-width="0.06" dominant-baseline="central">1410</text>
<text transform="translate(491.3 317.7) rotate(-90) scale(0.88 1)" font-size="6.1" fill="#222" stroke="#222" stroke-width="0.06" dominant-baseline="central">1561</text>
<text transform="translate(509.1 307.0) rotate(-90) scale(0.88 1)" font-size="6.1" fill="#222" stroke="#222" stroke-width="0.06" dominant-baseline="central">1656</text>
<text transform="translate(346.8 351.1) rotate(-90) scale(0.88 1)" font-size="6.1" fill="#222" stroke="#222" stroke-width="0.06" dominant-baseline="central">810</text>
<text transform="translate(363.5 344.0) rotate(-90) scale(0.88 1)" font-size="6.1" fill="#222" stroke="#222" stroke-width="0.06" dominant-baseline="central">897</text>
<text transform="translate(373.4 337.7) rotate(-90) scale(0.88 1)" font-size="6.1" fill="#222" stroke="#222" stroke-width="0.06" dominant-baseline="central">947</text>
<text transform="translate(391.8 319.0) rotate(-90) scale(0.88 1)" font-size="6.1" fill="#222" stroke="#222" stroke-width="0.06" dominant-baseline="central">1045</text>
<text transform="translate(403.0 317.7) rotate(-90) scale(0.88 1)" font-size="6.1" fill="#222" stroke="#222" stroke-width="0.06" dominant-baseline="central">1102</text>
<text transform="translate(407.8 313.0) rotate(-90) scale(0.88 1)" font-size="6.1" fill="#222" stroke="#222" stroke-width="0.06" dominant-baseline="central">1124</text>
<text transform="translate(423.3 357.1) rotate(-90) scale(0.88 1)" font-size="6.1" fill="#222" stroke="#222" stroke-width="0.06" dominant-baseline="central">1206</text>
<text transform="translate(435.2 351.9) rotate(-90) scale(0.88 1)" font-size="6.1" fill="#222" stroke="#222" stroke-width="0.06" dominant-baseline="central">1269</text>
<text transform="translate(455.4 303.0) rotate(-90) scale(0.88 1)" font-size="6.1" fill="#222" stroke="#222" stroke-width="0.06" dominant-baseline="central">1376</text>
<text transform="translate(462.5 317.1) rotate(-90) scale(0.88 1)" font-size="6.1" fill="#222" stroke="#222" stroke-width="0.06" dominant-baseline="central">1410</text>
<text transform="translate(470.4 347.4) rotate(-90) scale(0.88 1)" font-size="6.1" fill="#222" stroke="#222" stroke-width="0.06" dominant-baseline="central">1455</text>
<text transform="translate(508.7 349.3) rotate(-90) scale(0.88 1)" font-size="6.1" fill="#222" stroke="#222" stroke-width="0.06" dominant-baseline="central">1655</text>
<text transform="translate(346.2 398.9) rotate(-90) scale(0.88 1)" font-size="6.1" fill="#222" stroke="#222" stroke-width="0.06" dominant-baseline="central">807</text>
<text transform="translate(363.5 375.5) rotate(-90) scale(0.88 1)" font-size="6.1" fill="#222" stroke="#222" stroke-width="0.06" dominant-baseline="central">896</text>
<text transform="translate(373.4 368.7) rotate(-90) scale(0.88 1)" font-size="6.1" fill="#222" stroke="#222" stroke-width="0.06" dominant-baseline="central">947</text>
<text transform="translate(392.9 356.5) rotate(-90) scale(0.88 1)" font-size="6.1" fill="#222" stroke="#222" stroke-width="0.06" dominant-baseline="central">1048</text>
<text transform="translate(401.9 347.6) rotate(-90) scale(0.88 1)" font-size="6.1" fill="#222" stroke="#222" stroke-width="0.06" dominant-baseline="central">1097</text>
<text transform="translate(407.8 337.7) rotate(-90) scale(0.88 1)" font-size="6.1" fill="#222" stroke="#222" stroke-width="0.06" dominant-baseline="central">1125</text>
<text transform="translate(423.3 397.0) rotate(-90) scale(0.88 1)" font-size="6.1" fill="#222" stroke="#222" stroke-width="0.06" dominant-baseline="central">1206</text>
<text transform="translate(435.2 388.2) rotate(-90) scale(0.88 1)" font-size="6.1" fill="#222" stroke="#222" stroke-width="0.06" dominant-baseline="central">1269</text>
<text transform="translate(446.7 370.0) rotate(-90) scale(0.88 1)" font-size="6.1" fill="#222" stroke="#222" stroke-width="0.06" dominant-baseline="central">1328</text>
<text transform="translate(455.0 339.3) rotate(-90) scale(0.88 1)" font-size="6.1" fill="#222" stroke="#222" stroke-width="0.06" dominant-baseline="central">1374</text>
<text transform="translate(462.2 353.8) rotate(-90) scale(0.88 1)" font-size="6.1" fill="#222" stroke="#222" stroke-width="0.06" dominant-baseline="central">1410</text>
<text transform="translate(470.8 384.0) rotate(-90) scale(0.88 1)" font-size="6.1" fill="#222" stroke="#222" stroke-width="0.06" dominant-baseline="central">1456</text>
<text transform="translate(508.7 391.8) rotate(-90) scale(0.88 1)" font-size="6.1" fill="#222" stroke="#222" stroke-width="0.06" dominant-baseline="central">1652</text>
<text transform="translate(10.5 130.6) rotate(-90)" font-size="8.5" font-weight="bold" fill="#000" font-family="Liberation Sans, sans-serif">Raman intensity</text>
<text transform="translate(287.8 131.9) rotate(-90)" font-size="8.6" font-weight="bold" fill="#000" font-family="Liberation Sans, sans-serif">Raman intensity</text>
<text transform="translate(14.7 360.2) rotate(-90)" font-size="8.3" font-weight="bold" fill="#000" font-family="Liberation Sans, sans-serif">Raman intensity</text>
<text transform="translate(295.9 362.6) rotate(-90)" font-size="8.4" font-weight="bold" fill="#000" font-family="Liberation Sans, sans-serif">Raman intensity</text>
<text x="100.7" y="208.9" font-size="8.3" font-weight="bold" fill="#000" font-family="Liberation Sans, sans-serif">Raman shift (cm<tspan font-size="5.0" dy="-3.2">-1</tspan><tspan dy="3.2">)</tspan></text>
<text x="381.2" y="211.6" font-size="8.5" font-weight="bold" fill="#000" font-family="Liberation Sans, sans-serif">Raman shift (cm<tspan font-size="5.1" dy="-3.2">-1</tspan><tspan dy="3.2">)</tspan></text>
<text x="101.8" y="431.6" font-size="8.3" font-weight="bold" fill="#000" font-family="Liberation Sans, sans-serif">Raman shift (cm<tspan font-size="5.0" dy="-3.2">-1</tspan><tspan dy="3.2">)</tspan></text>
<text x="385.7" y="431.5" font-size="8.3" font-weight="bold" fill="#000" font-family="Liberation Sans, sans-serif">Raman shift (cm<tspan font-size="5.0" dy="-3.2">-1</tspan><tspan dy="3.2">)</tspan></text>
<text x="126.2" y="229.3" font-size="11.3" stroke="#000" stroke-width="0.3" fill="#000" font-family="Liberation Serif, serif">(a)</text>
<text x="408.0" y="229.3" font-size="11.3" font-weight="bold" fill="#000" font-family="Liberation Serif, serif">(b)</text>
<text x="125.9" y="448.7" font-size="11.3" stroke="#000" stroke-width="0.3" fill="#000" font-family="Liberation Serif, serif">(c)</text>
<text x="407.6" y="448.7" font-size="11.3" font-weight="bold" fill="#000" font-family="Liberation Serif, serif">(d)</text>
</svg></body></html>
